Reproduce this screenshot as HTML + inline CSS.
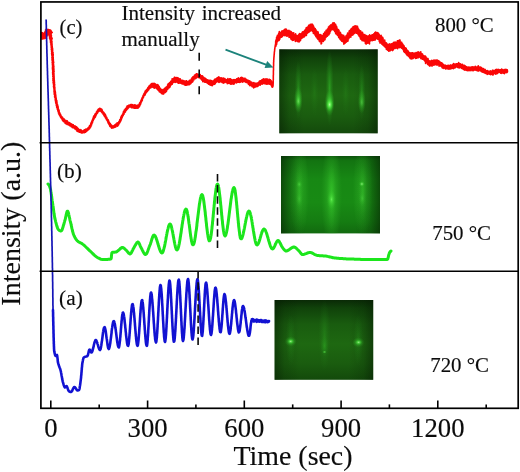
<!DOCTYPE html>
<html><head><meta charset="utf-8"><title>RHEED intensity oscillations</title>
<style>html,body{margin:0;padding:0;background:#fff}body{width:520px;height:472px;overflow:hidden}</style></head>
<body>
<svg width="520" height="472" viewBox="0 0 520 472" style="display:block;font-family:'Liberation Serif',serif">
<rect width="520" height="472" fill="#fff"/>
<defs>
<radialGradient id="gglow"><stop offset="0" stop-color="#35c52a" stop-opacity="0.9"/><stop offset="0.5" stop-color="#2fb526" stop-opacity="0.4"/><stop offset="1" stop-color="#2aa522" stop-opacity="0"/></radialGradient>
<radialGradient id="gspot"><stop offset="0" stop-color="#b4ffa0" stop-opacity="1"/><stop offset="0.35" stop-color="#5cf04c" stop-opacity="0.85"/><stop offset="0.7" stop-color="#3cd232" stop-opacity="0.35"/><stop offset="1" stop-color="#30c028" stop-opacity="0"/></radialGradient>
<radialGradient id="gmid"><stop offset="0" stop-color="#58ea48" stop-opacity="1"/><stop offset="0.5" stop-color="#40d034" stop-opacity="0.5"/><stop offset="1" stop-color="#30b828" stop-opacity="0"/></radialGradient>
</defs>
<defs><linearGradient id="bgc" x1="0" y1="0" x2="0" y2="1"><stop offset="0" stop-color="#0a2c07"/><stop offset="0.1" stop-color="#10420a"/><stop offset="0.3" stop-color="#195c0f"/><stop offset="0.55" stop-color="#1e6811"/><stop offset="0.8" stop-color="#1a5c0f"/><stop offset="1" stop-color="#144a0c"/></linearGradient>
<linearGradient id="edc" x1="0" y1="0" x2="1" y2="0"><stop offset="0" stop-color="#041802" stop-opacity="0.5"/><stop offset="0.1" stop-color="#041802" stop-opacity="0.17"/><stop offset="0.25" stop-color="#041802" stop-opacity="0"/><stop offset="0.75" stop-color="#041802" stop-opacity="0"/><stop offset="0.9" stop-color="#041802" stop-opacity="0.17"/><stop offset="1" stop-color="#041802" stop-opacity="0.5"/></linearGradient>
<clipPath id="cpc"><rect x="279.3" y="49.3" width="98.4" height="84"/></clipPath></defs>
<rect x="279.3" y="49.3" width="98.4" height="84" fill="url(#bgc)"/>
<g clip-path="url(#cpc)">
<ellipse cx="298.3" cy="90" rx="3.6" ry="30" fill="url(#gglow)" opacity="0.55"/>
<ellipse cx="329.6" cy="88" rx="4" ry="38" fill="url(#gglow)" opacity="0.65"/>
<ellipse cx="361.8" cy="92" rx="3.6" ry="28" fill="url(#gglow)" opacity="0.5"/>
<ellipse cx="314.5" cy="92" rx="4" ry="25" fill="url(#gglow)" opacity="0.15"/>
<ellipse cx="345.7" cy="92" rx="4" ry="25" fill="url(#gglow)" opacity="0.15"/>
<ellipse cx="298.3" cy="100" rx="4.4" ry="13" fill="url(#gmid)" opacity="0.9"/>
<ellipse cx="329.6" cy="103" rx="5" ry="13" fill="url(#gmid)" opacity="1"/>
<ellipse cx="361.8" cy="101.5" rx="4" ry="12" fill="url(#gmid)" opacity="0.7"/>
<ellipse cx="298.3" cy="101.5" rx="3" ry="6" fill="url(#gspot)" opacity="0.4"/>
<ellipse cx="329.6" cy="104.6" rx="4" ry="7" fill="url(#gspot)" opacity="1"/>
<ellipse cx="361.8" cy="103" rx="2.6" ry="5" fill="url(#gspot)" opacity="0.15"/>
</g>
<rect x="279.3" y="49.3" width="98.4" height="84" fill="url(#edc)"/>
<defs><linearGradient id="bgb" x1="0" y1="0" x2="0" y2="1"><stop offset="0" stop-color="#0d520c"/><stop offset="0.06" stop-color="#137411"/><stop offset="0.3" stop-color="#178814"/><stop offset="0.6" stop-color="#188a14"/><stop offset="0.85" stop-color="#157c12"/><stop offset="1" stop-color="#126a0f"/></linearGradient>
<linearGradient id="edb" x1="0" y1="0" x2="1" y2="0"><stop offset="0" stop-color="#041802" stop-opacity="0.55"/><stop offset="0.1" stop-color="#041802" stop-opacity="0.19"/><stop offset="0.25" stop-color="#041802" stop-opacity="0"/><stop offset="0.75" stop-color="#041802" stop-opacity="0"/><stop offset="0.9" stop-color="#041802" stop-opacity="0.19"/><stop offset="1" stop-color="#041802" stop-opacity="0.55"/></linearGradient>
<clipPath id="cpb"><rect x="281" y="156" width="99" height="77.4"/></clipPath></defs>
<rect x="281" y="156" width="99" height="77.4" fill="url(#bgb)"/>
<g clip-path="url(#cpb)">
<ellipse cx="299.2" cy="190" rx="10" ry="48" fill="url(#gglow)" opacity="0.95"/>
<ellipse cx="331.5" cy="194" rx="10.5" ry="54" fill="url(#gglow)" opacity="1"/>
<ellipse cx="362.8" cy="190" rx="10" ry="48" fill="url(#gglow)" opacity="0.95"/>
<ellipse cx="299.2" cy="192" rx="4" ry="30" fill="url(#gglow)" opacity="0.5"/>
<ellipse cx="331.5" cy="196" rx="4.5" ry="34" fill="url(#gglow)" opacity="0.6"/>
<ellipse cx="362.8" cy="192" rx="4" ry="30" fill="url(#gglow)" opacity="0.5"/>
<ellipse cx="299.2" cy="184.3" rx="3" ry="4" fill="url(#gmid)" opacity="0.8"/>
<ellipse cx="299.2" cy="199" rx="3.5" ry="8" fill="url(#gmid)" opacity="0.45"/>
<ellipse cx="331.5" cy="199.4" rx="4.5" ry="10" fill="url(#gmid)" opacity="0.95"/>
<ellipse cx="331.5" cy="199.4" rx="2.5" ry="5" fill="url(#gspot)" opacity="0.15"/>
<ellipse cx="362.3" cy="198.5" rx="3.5" ry="8" fill="url(#gmid)" opacity="0.5"/>
<ellipse cx="361.9" cy="184" rx="3" ry="3" fill="url(#gspot)" opacity="0.85"/>
</g>
<rect x="281" y="156" width="99" height="77.4" fill="url(#edb)"/>
<defs><linearGradient id="bga" x1="0" y1="0" x2="0" y2="1"><stop offset="0" stop-color="#0a2a06"/><stop offset="0.1" stop-color="#10420a"/><stop offset="0.3" stop-color="#195c0f"/><stop offset="0.55" stop-color="#1e6811"/><stop offset="0.8" stop-color="#1a5c0f"/><stop offset="1" stop-color="#134a0b"/></linearGradient>
<linearGradient id="eda" x1="0" y1="0" x2="1" y2="0"><stop offset="0" stop-color="#041802" stop-opacity="0.5"/><stop offset="0.1" stop-color="#041802" stop-opacity="0.17"/><stop offset="0.25" stop-color="#041802" stop-opacity="0"/><stop offset="0.75" stop-color="#041802" stop-opacity="0"/><stop offset="0.9" stop-color="#041802" stop-opacity="0.17"/><stop offset="1" stop-color="#041802" stop-opacity="0.5"/></linearGradient>
<clipPath id="cpa"><rect x="274.6" y="300" width="98.6" height="79.8"/></clipPath></defs>
<rect x="274.6" y="300" width="98.6" height="79.8" fill="url(#bga)"/>
<g clip-path="url(#cpa)">
<ellipse cx="324.5" cy="335" rx="6" ry="36" fill="url(#gglow)" opacity="0.28"/>
<ellipse cx="324.5" cy="346" rx="4" ry="11" fill="url(#gglow)" opacity="0.4"/>
<ellipse cx="290.6" cy="340" rx="5" ry="26" fill="url(#gglow)" opacity="0.3"/>
<ellipse cx="358.4" cy="340" rx="5" ry="26" fill="url(#gglow)" opacity="0.3"/>
<ellipse cx="290.6" cy="341.4" rx="6" ry="5" fill="url(#gmid)" opacity="0.8"/>
<ellipse cx="358.4" cy="342.4" rx="6" ry="5" fill="url(#gmid)" opacity="0.8"/>
<ellipse cx="290.6" cy="341.4" rx="3.6" ry="2.8" fill="url(#gspot)" opacity="1"/>
<ellipse cx="358.6" cy="342.3" rx="3.6" ry="2.8" fill="url(#gspot)" opacity="1"/>
<ellipse cx="324.5" cy="352" rx="2.2" ry="1.6" fill="url(#gspot)" opacity="0.5"/>
</g>
<rect x="274.6" y="300" width="98.6" height="79.8" fill="url(#eda)"/>
<defs><clipPath id="fr"><rect x="40.9" y="1.95" width="477.3" height="406.35"/></clipPath></defs><g clip-path="url(#fr)">
<path d="M40.4 32.6 L41.9 32.5 L39.5 33.3 L42.7 32.8 L40.2 33.6 L42.6 33.2 L39.8 34.2 L42.7 33.6 L39.3 34.8 L42.8 34.0 L39.9 35.2 L43.4 34.2 L40.1 35.6 L43.5 34.6 L39.8 36.3 L44.0 34.8 L40.9 36.4 L43.7 35.3 L40.8 37.0 L43.3 35.9 L41.7 37.1 L44.3 35.6 L41.8 37.8 L43.8 36.2 L41.7 39.0 L44.1 35.9 L42.8 39.0 L43.9 35.6 L44.1 38.7 L42.6 36.0 L45.6 38.2 L43.1 36.5 L46.5 37.9 L42.1 35.7 L45.7 37.0 L43.0 35.7 L45.8 36.5 L43.4 35.4 L46.2 36.2 L43.8 35.1 L47.0 36.0 L43.0 34.3 L47.2 35.7 L43.1 33.8 L46.8 35.1 L43.8 33.5 L47.1 35.0 L44.6 33.3 L47.5 34.7 L44.5 32.8 L47.5 34.1 L44.9 32.5 L47.8 33.8 L44.9 32.0 L48.2 33.5 L45.3 31.7 L48.1 33.0 L45.3 31.1 L48.4 32.8 L45.8 30.9 L48.2 32.3 L45.6 29.8 L48.8 32.7 L46.3 29.1 L48.4 33.6 L48.0 29.3 L47.5 33.2 L48.8 29.7 L47.4 32.8 L49.6 29.9 L47.9 32.4 L50.4 30.0 L47.7 33.0 L50.9 30.4 L48.4 32.7 L51.2 31.2 L48.4 32.8 L51.1 32.1 L48.3 33.1 L52.2 32.4 L48.5 33.5 L51.6 33.0 L48.2 34.0 L51.4 33.5 L48.8 34.3 L51.1 34.0 L49.4 34.6 L51.2 34.5 L49.1 35.1 L51.0 35.0 L49.0 35.5 L51.3 35.4 L49.3 35.9 L51.5 35.8 L49.4 36.4 L51.4 36.3 L49.6 36.8 L51.3 36.7 L49.6 37.2 L51.2 37.2 L49.8 37.6 L51.7 37.6 L49.5 38.1 L51.7 38.0 L50.0 38.5 L52.1 38.4 L50.0 38.9 L52.1 38.8 L50.1 39.4 L51.7 39.4 L50.2 39.8 L51.7 39.8 L50.6 40.2 L51.5 40.3 L50.5 40.6 L51.5 40.7 L50.6 41.1 L51.9 41.1 L50.6 41.5 L52.0 41.5 L50.4 42.0 L52.0 42.0 L50.7 42.4 L51.9 42.4 L50.8 42.8 L51.7 42.9 L50.9 43.2 L51.9 43.3 L50.9 43.7 L52.0 43.8 L51.0 44.1 L52.2 44.2 L50.9 44.5 L51.9 44.7 L51.1 45.0 L52.0 45.1 L51.1 45.4 L51.9 45.5 L51.3 45.8 L52.2 46.0 L51.3 46.3 L52.2 46.4 L51.3 46.7 L52.2 46.8 L51.1 47.2 L52.3 47.3 L51.4 47.6 L52.4 47.7 L51.4 48.0 L52.3 48.2 L51.4 48.5 L52.6 48.6 L51.5 48.9 L52.5 49.0 L51.4 49.3 L52.7 49.5 L51.3 49.8 L52.4 49.9 L51.6 50.2 L52.7 50.3 L51.8 50.6 L52.6 50.8 L51.8 51.1 L52.6 51.2 L51.6 51.5 L52.7 51.7 L51.9 52.0 L52.5 52.1 L51.7 52.4 L53.1 52.5 L51.8 52.8 L53.0 53.0 L51.7 53.3 L52.9 53.4 L51.6 53.7 L52.9 53.9 L51.8 54.2 L53.3 54.3 L51.8 54.6 L53.2 54.7 L51.8 55.0 L52.9 55.2 L52.0 55.5 L53.2 55.6 L52.0 55.9 L53.2 56.0 L52.2 56.3 L53.0 56.5 L52.1 56.8 L53.1 56.9 L52.1 57.2 L53.2 57.4 L51.9 57.7 L53.3 57.8 L52.2 58.1 L53.2 58.3 L52.2 58.5 L53.1 58.7 L52.2 59.0 L53.3 59.1 L52.0 59.4 L53.3 59.6 L52.4 59.8 L53.4 60.0 L52.1 60.3 L53.4 60.5 L52.3 60.7 L53.3 60.9 L52.5 61.2 L53.4 61.3 L52.6 61.6 L53.5 61.8 L52.2 62.1 L53.8 62.2 L52.5 62.5 L53.4 62.7 L52.2 62.9 L53.4 63.1 L52.6 63.4 L53.5 63.5 L52.4 63.8 L53.4 64.0 L52.4 64.3 L53.6 64.4 L52.4 64.7 L53.3 64.9 L52.6 65.1 L53.5 65.3 L52.6 65.6 L53.7 65.7 L52.5 66.0 L54.0 66.2 L52.6 66.4 L53.7 66.6 L52.7 66.9 L53.7 67.1 L52.5 67.3 L53.8 67.5 L52.7 67.8 L53.8 67.9 L52.3 68.2 L53.7 68.4 L52.6 68.6 L53.9 68.8 L52.5 69.1 L53.8 69.3 L52.5 69.5 L54.0 69.7 L52.7 70.0 L53.9 70.1 L52.7 70.4 L53.9 70.6 L52.7 70.8 L53.8 71.0 L52.7 71.3 L54.1 71.4 L52.9 71.7 L53.7 71.9 L53.0 72.2 L53.9 72.3 L52.6 72.6 L53.8 72.8 L52.9 73.0 L53.8 73.2 L52.7 73.5 L54.0 73.7 L52.7 73.9 L53.9 74.1 L52.7 74.4 L53.9 74.5 L52.8 74.8 L54.1 75.0 L52.9 75.2 L53.9 75.4 L53.0 75.7 L54.0 75.9 L53.1 76.1 L54.0 76.3 L52.8 76.6 L54.2 76.7 L53.2 77.0 L54.1 77.2 L53.2 77.4 L53.9 77.6 L53.3 77.9 L54.2 78.0 L52.9 78.3 L54.2 78.5 L53.2 78.8 L54.1 78.9 L53.1 79.2 L54.2 79.4 L53.3 79.6 L54.1 79.8 L52.9 80.1 L54.3 80.2 L53.0 80.5 L54.4 80.7 L53.1 81.0 L54.3 81.1 L53.3 81.4 L54.1 81.6 L53.4 81.8 L54.5 82.0 L53.5 82.3 L54.5 82.4 L53.0 82.7 L54.4 82.9 L53.4 83.2 L54.5 83.3 L53.4 83.6 L54.5 83.7 L53.4 84.0 L54.6 84.2 L53.6 84.5 L54.7 84.6 L53.7 84.9 L54.7 85.0 L53.6 85.4 L54.6 85.5 L53.8 85.8 L54.5 85.9 L53.6 86.2 L54.6 86.4 L53.5 86.7 L54.6 86.8 L53.7 87.1 L54.8 87.2 L53.9 87.5 L54.9 87.7 L53.8 88.0 L54.7 88.1 L53.9 88.4 L54.9 88.5 L54.0 88.9 L54.8 89.0 L54.1 89.3 L54.7 89.5 L54.0 89.7 L54.9 89.9 L54.0 90.2 L55.1 90.3 L54.1 90.6 L55.0 90.7 L54.2 91.1 L55.1 91.2 L54.0 91.5 L55.3 91.6 L54.3 91.9 L55.2 92.1 L54.1 92.4 L55.5 92.5 L54.4 92.8 L55.2 92.9 L54.2 93.3 L55.5 93.3 L54.3 93.7 L55.5 93.8 L54.3 94.2 L55.4 94.2 L54.3 94.6 L55.7 94.6 L54.6 95.0 L55.7 95.1 L54.7 95.4 L55.8 95.5 L54.8 95.9 L55.9 95.9 L54.6 96.4 L55.9 96.4 L54.7 96.8 L55.8 96.8 L54.7 97.2 L55.8 97.3 L55.0 97.6 L56.2 97.7 L55.1 98.1 L56.0 98.1 L55.3 98.5 L56.2 98.6 L55.4 98.9 L56.0 99.0 L55.2 99.4 L56.3 99.4 L55.5 99.8 L56.2 99.9 L55.3 100.3 L56.6 100.3 L55.4 100.7 L56.7 100.7 L55.5 101.1 L57.0 101.1 L55.6 101.6 L56.6 101.6 L55.9 102.0 L56.9 102.0 L55.7 102.5 L57.0 102.4 L55.7 102.9 L57.1 102.8 L56.0 103.3 L57.1 103.3 L56.1 103.7 L57.1 103.7 L56.2 104.2 L57.1 104.2 L56.4 104.6 L57.5 104.5 L56.4 105.0 L57.4 105.0 L56.3 105.5 L57.7 105.4 L56.7 105.8 L57.6 105.9 L56.6 106.3 L58.0 106.2 L56.8 106.7 L58.0 106.7 L56.7 107.2 L58.2 107.1 L57.1 107.6 L58.2 107.5 L57.3 108.0 L58.1 108.0 L57.4 108.4 L58.2 108.4 L57.2 108.9 L58.4 108.8 L57.4 109.3 L58.6 109.2 L57.7 109.7 L58.6 109.7 L57.8 110.1 L59.0 110.0 L57.9 110.6 L58.9 110.5 L58.1 111.0 L59.2 110.9 L58.0 111.5 L59.1 111.4 L58.3 111.8 L59.2 111.8 L58.5 112.2 L59.4 112.2 L58.5 112.7 L59.7 112.5 L58.5 113.2 L59.6 113.0 L58.9 113.5 L59.7 113.4 L59.0 114.0 L60.2 113.7 L59.0 114.4 L60.3 114.1 L59.4 114.8 L60.6 114.5 L59.5 115.2 L60.1 114.1 L60.2 116.8 L60.3 114.7 L60.4 116.6 L60.5 114.3 L60.6 117.0 L60.7 115.4 L60.8 117.6 L60.9 115.4 L61.1 117.9 L61.2 116.5 L61.3 118.0 L61.4 116.3 L61.5 118.5 L61.7 116.9 L61.8 118.7 L61.9 117.2 L62.1 119.8 L62.2 117.8 L62.3 119.7 L62.5 117.3 L62.6 120.4 L62.8 118.1 L62.9 120.9 L63.1 118.4 L63.2 121.0 L63.4 118.8 L63.5 121.5 L63.7 118.7 L63.8 121.6 L64.0 119.5 L64.2 121.9 L64.3 119.1 L64.5 122.0 L64.7 119.7 L64.8 122.3 L65.0 120.1 L65.2 123.4 L65.3 120.5 L65.5 123.4 L65.7 120.8 L65.9 123.6 L66.1 120.6 L66.2 123.7 L66.4 121.2 L66.6 123.6 L66.8 121.4 L67.0 124.5 L67.2 120.8 L67.3 124.1 L67.5 121.9 L67.7 124.0 L67.9 122.4 L68.1 124.6 L68.3 122.3 L68.5 124.9 L68.7 123.0 L68.9 124.7 L69.1 122.5 L69.3 125.3 L69.5 123.1 L69.6 125.7 L69.8 122.7 L70.0 125.4 L70.2 123.4 L70.4 125.6 L70.6 123.7 L70.8 126.3 L71.0 124.0 L71.2 126.7 L71.4 124.0 L71.6 126.3 L71.8 124.0 L72.0 126.7 L72.2 124.6 L72.4 127.7 L72.5 124.8 L72.7 126.9 L72.9 124.8 L73.1 126.9 L73.3 124.9 L73.5 127.2 L73.6 125.8 L73.8 128.0 L74.0 125.8 L74.2 128.2 L74.3 125.8 L74.5 128.5 L74.7 126.6 L74.9 128.9 L75.0 126.6 L75.2 128.6 L75.4 126.1 L75.6 129.1 L75.7 126.7 L75.9 129.5 L76.1 126.8 L76.2 130.0 L76.4 126.8 L76.6 130.3 L76.8 127.0 L76.9 131.1 L77.1 127.5 L77.3 131.1 L77.5 127.9 L77.6 131.5 L77.8 128.5 L78.0 131.5 L78.2 128.5 L78.4 131.4 L78.5 129.3 L78.7 131.2 L78.9 129.2 L79.1 132.1 L79.3 129.5 L79.5 132.2 L79.7 129.7 L79.9 131.9 L80.1 129.6 L80.3 132.5 L80.5 129.9 L80.7 132.3 L80.9 130.2 L81.1 132.5 L81.3 130.1 L81.5 133.0 L81.7 130.7 L81.9 132.9 L82.2 131.0 L82.4 132.9 L82.6 131.1 L82.8 132.8 L83.0 130.7 L83.3 132.7 L83.5 130.6 L83.7 132.5 L83.9 130.8 L84.1 132.4 L84.3 129.8 L84.5 132.6 L84.7 130.3 L84.9 132.0 L85.1 130.2 L85.3 132.1 L85.5 129.4 L85.7 132.1 L85.9 129.4 L86.0 131.8 L86.2 129.3 L86.4 131.3 L86.6 129.3 L86.8 130.8 L86.9 129.0 L87.1 130.8 L87.3 128.8 L87.4 130.6 L87.6 128.4 L87.8 130.3 L88.0 128.0 L88.1 129.8 L88.3 127.5 L88.5 129.7 L88.6 127.3 L88.8 129.1 L88.9 127.0 L89.1 129.0 L89.2 126.9 L89.4 129.0 L89.5 125.9 L89.6 128.3 L89.7 125.6 L89.8 128.4 L90.0 126.0 L90.1 127.4 L90.2 125.2 L90.3 127.5 L90.4 124.7 L90.5 127.2 L90.6 124.5 L90.7 126.6 L90.8 123.9 L90.9 126.7 L90.9 123.0 L91.0 125.7 L91.1 122.7 L91.2 124.9 L91.3 123.1 L91.4 124.7 L91.5 122.3 L91.6 125.0 L91.6 121.7 L91.7 124.0 L91.8 121.2 L91.9 123.3 L92.0 120.9 L92.1 123.0 L92.2 121.1 L92.2 122.5 L92.3 120.1 L92.4 122.9 L92.5 120.1 L92.6 122.4 L92.7 119.0 L92.7 121.6 L92.8 119.4 L92.9 120.9 L93.0 118.5 L93.1 120.7 L93.2 118.5 L93.3 120.4 L93.3 117.2 L93.4 119.7 L93.5 116.8 L93.6 119.8 L93.7 116.6 L93.8 119.4 L93.9 115.9 L94.0 118.7 L94.1 116.3 L94.2 118.4 L94.3 116.0 L94.4 117.7 L94.5 115.8 L94.6 117.2 L94.7 115.1 L94.8 117.8 L94.9 114.2 L95.1 117.0 L95.2 113.7 L95.3 117.1 L95.4 114.2 L95.5 115.7 L95.6 113.5 L95.7 116.1 L95.9 113.3 L96.0 115.6 L96.1 113.0 L96.2 114.8 L96.3 113.1 L96.4 114.4 L96.5 111.9 L96.6 113.9 L96.8 112.0 L96.9 113.5 L97.0 111.4 L97.1 113.5 L97.2 111.1 L97.3 113.4 L97.5 110.4 L97.6 112.9 L97.7 110.0 L97.8 112.6 L98.0 110.2 L98.1 111.8 L98.2 109.3 L98.4 111.5 L98.5 109.3 L98.7 111.5 L98.9 108.9 L99.0 110.8 L99.2 108.9 L99.4 110.4 L99.6 108.4 L99.8 111.0 L100.0 108.6 L100.2 110.8 L100.5 108.5 L100.7 111.2 L100.8 108.8 L101.0 111.5 L101.2 109.2 L101.3 111.3 L101.5 109.2 L101.6 112.3 L101.8 109.2 L101.9 112.7 L102.0 109.6 L102.2 112.2 L102.3 110.5 L102.4 112.9 L102.5 111.0 L102.6 113.2 L102.8 111.5 L102.9 113.6 L103.0 111.7 L103.1 114.3 L103.2 112.2 L103.3 114.2 L103.4 112.0 L103.6 114.7 L103.7 112.4 L103.8 115.1 L103.9 113.3 L104.0 115.5 L104.1 112.8 L104.2 116.0 L104.4 114.0 L104.5 116.2 L104.6 114.0 L104.7 116.7 L104.9 114.8 L105.0 116.7 L105.1 114.1 L105.2 117.2 L105.4 114.8 L105.5 117.9 L105.6 115.0 L105.7 117.7 L105.8 115.5 L106.0 118.8 L106.1 116.7 L106.2 118.8 L106.3 117.1 L106.4 119.5 L106.5 117.1 L106.6 119.9 L106.7 117.2 L106.8 119.5 L106.9 117.7 L107.0 119.9 L107.1 118.7 L107.2 120.5 L107.3 119.0 L107.4 121.0 L107.5 119.5 L107.6 121.4 L107.7 119.3 L107.8 122.3 L107.9 119.7 L108.0 122.3 L108.1 119.9 L108.2 123.2 L108.3 119.7 L108.4 123.5 L108.5 120.7 L108.6 123.5 L108.7 121.0 L108.8 124.1 L108.9 122.0 L109.0 124.1 L109.1 122.3 L109.3 125.0 L109.4 122.4 L109.5 124.9 L109.6 122.7 L109.7 125.8 L109.8 123.2 L109.9 126.4 L110.1 123.8 L110.2 126.0 L110.3 123.5 L110.4 126.6 L110.6 124.2 L110.7 126.9 L110.9 124.9 L111.0 127.3 L111.2 124.8 L111.3 127.6 L111.5 125.1 L111.7 128.3 L111.9 125.6 L112.1 127.8 L112.3 125.7 L112.5 128.0 L112.7 126.1 L113.0 127.9 L113.2 126.1 L113.4 127.6 L113.6 125.7 L113.8 127.7 L114.0 125.5 L114.2 127.4 L114.4 125.8 L114.6 127.1 L114.8 125.0 L115.0 127.1 L115.2 124.5 L115.4 127.0 L115.6 124.5 L115.8 126.9 L116.0 124.0 L116.2 126.2 L116.4 124.4 L116.6 126.0 L116.7 124.0 L116.9 125.8 L117.1 122.8 L117.3 125.7 L117.5 123.3 L117.6 126.1 L117.8 123.2 L118.0 125.0 L118.1 122.8 L118.3 125.1 L118.4 122.5 L118.5 124.9 L118.7 122.1 L118.8 123.9 L118.9 121.5 L119.0 123.9 L119.1 121.8 L119.2 122.9 L119.3 121.0 L119.5 123.0 L119.6 120.7 L119.7 122.7 L119.8 119.5 L119.9 122.8 L120.0 119.9 L120.1 121.9 L120.2 119.6 L120.3 121.3 L120.3 119.3 L120.4 121.3 L120.5 119.1 L120.6 121.2 L120.7 117.7 L120.8 120.4 L120.9 117.1 L121.0 120.7 L121.1 116.8 L121.2 119.4 L121.3 116.8 L121.3 119.7 L121.4 116.3 L121.5 118.5 L121.6 115.5 L121.7 118.6 L121.8 115.8 L121.9 117.9 L122.0 115.7 L122.1 117.3 L122.1 115.4 L122.2 117.5 L122.3 114.9 L122.4 116.7 L122.5 114.3 L122.6 116.3 L122.7 114.0 L122.8 116.1 L122.9 113.9 L123.0 115.7 L123.1 113.2 L123.2 115.5 L123.2 112.8 L123.3 114.4 L123.4 111.8 L123.5 114.1 L123.6 111.6 L123.7 114.6 L123.8 111.4 L124.0 113.6 L124.1 110.8 L124.2 113.9 L124.3 110.0 L124.4 113.0 L124.5 110.2 L124.6 112.8 L124.8 110.3 L124.9 112.4 L125.0 109.3 L125.2 111.6 L125.3 109.1 L125.4 111.9 L125.6 108.5 L125.7 110.9 L125.8 108.8 L126.0 110.6 L126.1 108.5 L126.2 110.2 L126.3 107.7 L126.5 110.1 L126.6 107.0 L126.7 109.8 L126.9 106.8 L127.0 109.1 L127.1 106.0 L127.3 109.2 L127.4 106.0 L127.6 109.0 L127.7 106.5 L127.9 108.3 L128.0 105.7 L128.2 108.3 L128.3 105.9 L128.5 107.9 L128.7 105.2 L128.8 107.1 L129.0 105.4 L129.2 107.2 L129.4 105.2 L129.6 106.8 L129.8 105.1 L130.1 106.8 L130.3 105.0 L130.5 107.0 L130.7 104.6 L130.9 107.2 L131.2 104.8 L131.4 107.6 L131.6 104.5 L131.8 107.2 L132.0 104.5 L132.2 107.8 L132.5 105.0 L132.7 107.6 L132.9 104.8 L133.1 107.3 L133.3 105.2 L133.5 107.6 L133.8 105.2 L134.0 108.2 L134.2 105.1 L134.4 108.0 L134.6 104.8 L134.8 108.2 L135.1 105.1 L135.3 108.0 L135.5 105.0 L135.7 108.2 L135.9 105.4 L136.1 108.3 L136.4 105.9 L136.6 107.5 L136.8 105.8 L137.0 107.7 L137.2 105.2 L137.5 108.2 L137.7 105.2 L137.9 108.0 L138.1 105.8 L138.3 107.9 L138.4 105.1 L138.6 107.0 L138.7 104.7 L138.9 107.1 L139.0 104.8 L139.1 106.6 L139.3 103.8 L139.4 106.2 L139.5 103.3 L139.6 106.4 L139.7 102.9 L139.8 105.6 L139.9 102.5 L140.0 105.3 L140.1 102.5 L140.2 104.8 L140.3 102.4 L140.4 104.7 L140.5 101.9 L140.6 104.4 L140.7 101.4 L140.8 103.3 L140.9 101.1 L141.0 103.1 L141.0 100.3 L141.1 102.4 L141.2 100.1 L141.3 101.8 L141.4 100.3 L141.5 101.8 L141.6 99.1 L141.6 101.7 L141.7 99.2 L141.8 101.1 L141.9 98.5 L142.0 100.3 L142.1 98.0 L142.1 100.3 L142.2 97.6 L142.3 100.4 L142.4 97.3 L142.5 99.2 L142.6 97.3 L142.7 98.8 L142.7 97.0 L142.8 98.5 L142.9 96.2 L143.0 98.1 L143.1 95.4 L143.2 98.0 L143.3 95.2 L143.4 97.7 L143.4 95.2 L143.5 97.2 L143.6 94.9 L143.7 96.2 L143.8 94.6 L143.9 96.1 L144.0 93.6 L144.1 95.4 L144.2 93.5 L144.3 95.5 L144.4 93.0 L144.6 95.1 L144.7 92.8 L144.8 94.5 L144.9 92.0 L145.0 95.3 L145.2 91.0 L145.3 94.5 L145.4 91.7 L145.6 93.4 L145.7 91.6 L145.8 93.2 L145.9 90.6 L146.1 92.8 L146.2 90.2 L146.3 92.6 L146.4 89.8 L146.6 92.2 L146.7 89.6 L146.8 91.5 L146.9 89.6 L147.0 91.6 L147.2 89.6 L147.3 91.4 L147.4 88.5 L147.5 91.5 L147.7 88.3 L147.8 90.7 L147.9 87.5 L148.1 90.3 L148.2 87.5 L148.3 90.2 L148.4 87.5 L148.6 89.7 L148.7 86.7 L148.9 89.7 L149.0 86.0 L149.1 88.6 L149.3 86.3 L149.4 88.5 L149.6 85.7 L149.7 88.0 L149.9 85.3 L150.0 88.3 L150.2 85.1 L150.3 87.6 L150.5 84.9 L150.7 87.6 L150.8 84.5 L151.0 87.8 L151.2 83.9 L151.4 87.3 L151.6 83.6 L151.8 86.6 L152.0 84.0 L152.2 86.8 L152.5 83.5 L152.7 87.3 L152.9 83.2 L153.1 87.1 L153.3 83.5 L153.6 87.7 L153.8 84.0 L154.0 87.2 L154.2 83.3 L154.4 88.1 L154.6 83.7 L154.8 87.7 L155.0 83.9 L155.2 88.0 L155.4 84.3 L155.6 87.8 L155.8 84.3 L156.0 87.6 L156.2 85.5 L156.4 87.3 L156.6 85.0 L156.8 88.7 L157.0 84.8 L157.2 89.1 L157.4 85.4 L157.6 88.5 L157.7 84.6 L157.9 89.8 L158.1 85.6 L158.2 90.4 L158.4 85.4 L158.5 90.3 L158.6 86.2 L158.8 90.3 L158.9 86.2 L159.1 90.5 L159.2 86.6 L159.3 91.7 L159.5 87.8 L159.6 91.0 L159.8 87.8 L159.9 92.0 L160.0 88.1 L160.2 92.4 L160.3 88.7 L160.5 92.1 L160.6 89.4 L160.8 92.0 L160.9 89.0 L161.1 92.0 L161.2 89.3 L161.4 93.1 L161.6 90.2 L161.8 93.6 L162.0 90.2 L162.2 93.8 L162.4 89.9 L162.6 93.1 L162.9 89.6 L163.1 94.2 L163.3 90.2 L163.5 93.0 L163.7 89.4 L163.9 93.6 L164.1 89.6 L164.2 93.0 L164.4 89.4 L164.6 92.3 L164.7 88.3 L164.9 91.8 L165.0 88.2 L165.2 91.4 L165.4 87.9 L165.5 92.5 L165.6 88.4 L165.8 90.7 L165.9 87.4 L166.1 91.5 L166.2 87.0 L166.4 91.4 L166.5 87.0 L166.6 90.9 L166.8 87.0 L166.9 89.9 L167.1 86.6 L167.2 89.7 L167.3 86.5 L167.5 88.7 L167.6 84.9 L167.8 89.3 L167.9 85.0 L168.0 88.5 L168.2 83.9 L168.3 87.7 L168.5 84.9 L168.6 87.2 L168.8 84.2 L168.9 87.9 L169.1 84.2 L169.3 87.8 L169.4 82.8 L169.5 86.7 L169.7 83.1 L169.8 86.6 L170.0 83.5 L170.1 86.9 L170.2 83.0 L170.4 85.5 L170.5 81.8 L170.7 85.5 L170.8 81.4 L170.9 85.3 L171.0 81.9 L171.2 84.8 L171.3 80.7 L171.4 83.9 L171.6 81.3 L171.7 84.4 L171.8 80.9 L172.0 84.0 L172.1 78.9 L172.3 84.2 L172.4 80.1 L172.5 82.5 L172.7 79.4 L172.8 83.0 L173.0 78.8 L173.1 82.0 L173.3 79.0 L173.5 82.0 L173.6 78.8 L173.8 82.2 L174.0 78.1 L174.2 81.8 L174.4 77.3 L174.6 81.6 L174.8 77.3 L175.1 82.4 L175.3 77.7 L175.5 81.2 L175.7 78.5 L175.9 82.1 L176.1 77.6 L176.4 82.0 L176.6 78.9 L176.8 81.6 L177.0 77.5 L177.2 82.2 L177.4 78.7 L177.6 82.8 L177.8 77.9 L178.0 81.9 L178.2 78.3 L178.4 83.3 L178.6 78.3 L178.8 83.1 L179.0 78.6 L179.2 82.2 L179.4 79.6 L179.6 82.7 L179.8 79.0 L180.0 83.2 L180.2 78.7 L180.4 83.0 L180.6 80.4 L180.9 82.6 L181.1 80.5 L181.3 83.5 L181.5 80.4 L181.7 83.2 L181.9 80.2 L182.1 83.9 L182.3 80.6 L182.5 83.3 L182.8 80.2 L183.0 83.9 L183.2 81.4 L183.4 83.9 L183.6 81.2 L183.8 83.9 L184.0 80.8 L184.2 84.6 L184.4 81.2 L184.7 84.7 L184.9 81.3 L185.1 85.1 L185.3 81.2 L185.5 85.2 L185.7 81.0 L185.9 85.1 L186.2 80.9 L186.4 85.2 L186.6 80.9 L186.8 84.3 L187.0 81.2 L187.3 84.9 L187.5 82.2 L187.7 84.0 L187.9 82.1 L188.1 84.4 L188.3 81.6 L188.5 84.6 L188.7 81.4 L188.9 84.5 L189.1 80.8 L189.3 84.6 L189.5 80.2 L189.7 84.4 L189.8 80.9 L190.0 83.5 L190.2 80.5 L190.3 83.4 L190.5 80.4 L190.7 83.7 L190.8 79.9 L191.0 82.6 L191.1 79.8 L191.3 82.9 L191.4 78.9 L191.6 82.5 L191.7 79.1 L191.9 81.6 L192.0 77.9 L192.2 82.3 L192.3 78.2 L192.5 81.5 L192.6 77.9 L192.8 81.7 L192.9 76.8 L193.1 80.9 L193.2 77.1 L193.3 79.8 L193.5 77.0 L193.6 79.8 L193.8 76.6 L193.9 80.0 L194.1 76.4 L194.3 78.9 L194.4 75.3 L194.6 78.4 L194.7 75.9 L194.9 78.0 L195.1 74.8 L195.2 78.1 L195.4 75.1 L195.6 78.7 L195.8 74.2 L196.0 77.4 L196.2 75.0 L196.4 78.0 L196.6 73.8 L196.8 77.6 L197.0 73.7 L197.2 76.9 L197.4 74.0 L197.6 76.8 L197.9 74.8 L198.1 76.7 L198.3 74.4 L198.5 77.5 L198.7 74.6 L198.9 77.8 L199.1 75.2 L199.3 77.3 L199.5 75.4 L199.7 77.7 L199.8 74.8 L200.0 77.9 L200.2 74.5 L200.4 78.6 L200.6 75.6 L200.7 78.7 L200.9 75.6 L201.1 78.5 L201.2 76.0 L201.4 79.3 L201.6 76.0 L201.7 80.0 L201.9 76.9 L202.1 79.8 L202.3 75.9 L202.4 80.6 L202.6 76.1 L202.8 81.7 L203.0 76.9 L203.1 81.8 L203.3 77.7 L203.5 80.8 L203.7 77.3 L203.9 81.1 L204.1 78.4 L204.3 81.6 L204.5 78.5 L204.7 82.2 L204.9 78.1 L205.1 82.0 L205.3 78.3 L205.4 81.9 L205.6 79.1 L205.8 82.3 L206.0 78.7 L206.2 82.0 L206.4 79.8 L206.6 82.5 L206.8 79.9 L207.0 82.9 L207.2 80.1 L207.4 83.0 L207.6 79.9 L207.8 83.4 L208.0 80.2 L208.2 83.3 L208.4 80.3 L208.6 84.3 L208.8 81.2 L209.0 84.2 L209.2 81.2 L209.4 83.6 L209.6 80.2 L209.8 84.8 L210.0 80.8 L210.2 85.2 L210.4 80.3 L210.6 85.0 L210.8 81.2 L211.0 84.2 L211.2 80.5 L211.5 85.4 L211.7 81.7 L211.9 85.0 L212.1 81.6 L212.3 85.7 L212.6 81.9 L212.8 84.3 L213.0 80.9 L213.2 84.5 L213.4 81.5 L213.6 84.2 L213.7 81.2 L213.9 84.4 L214.1 80.9 L214.2 84.2 L214.4 79.6 L214.5 83.4 L214.7 80.5 L214.9 84.1 L215.0 79.1 L215.2 83.8 L215.3 79.9 L215.5 83.1 L215.6 79.5 L215.8 81.9 L215.9 79.2 L216.1 82.4 L216.3 78.6 L216.5 82.0 L216.6 78.6 L216.8 81.5 L217.0 78.6 L217.2 81.2 L217.5 77.6 L217.7 80.7 L217.9 77.7 L218.1 82.0 L218.3 78.2 L218.6 81.7 L218.8 76.9 L219.0 82.4 L219.2 77.3 L219.4 82.3 L219.7 78.6 L219.9 82.0 L220.1 77.8 L220.3 81.7 L220.5 78.6 L220.7 81.7 L221.0 78.0 L221.2 81.8 L221.4 78.0 L221.6 81.7 L221.8 78.1 L222.0 82.4 L222.3 79.3 L222.5 81.9 L222.7 78.2 L222.9 81.6 L223.1 78.4 L223.3 83.2 L223.6 78.1 L223.8 82.3 L224.0 78.9 L224.2 81.7 L224.4 79.0 L224.7 82.8 L224.9 78.6 L225.1 82.5 L225.3 79.2 L225.5 82.0 L225.7 79.8 L226.0 81.7 L226.2 79.8 L226.4 81.8 L226.6 79.7 L226.8 82.8 L227.0 79.5 L227.3 83.7 L227.5 79.0 L227.7 83.5 L227.9 78.6 L228.1 82.6 L228.3 79.6 L228.6 82.7 L228.8 79.8 L229.0 83.5 L229.2 80.2 L229.4 83.5 L229.6 78.8 L229.9 83.4 L230.1 79.0 L230.3 83.1 L230.5 78.8 L230.7 84.3 L231.0 79.3 L231.2 84.3 L231.4 79.6 L231.6 83.8 L231.8 80.6 L232.1 83.9 L232.3 80.1 L232.5 83.8 L232.7 80.1 L232.9 82.9 L233.2 79.9 L233.4 84.2 L233.6 79.7 L233.8 83.0 L234.0 79.6 L234.2 84.0 L234.5 80.5 L234.7 82.4 L234.9 79.8 L235.1 82.7 L235.3 80.0 L235.5 82.3 L235.7 79.9 L236.0 82.1 L236.2 80.0 L236.4 82.9 L236.6 78.7 L236.8 82.7 L237.0 79.7 L237.2 81.8 L237.4 78.7 L237.7 82.3 L237.9 79.1 L238.1 82.0 L238.3 77.9 L238.5 82.3 L238.7 79.2 L238.9 81.5 L239.1 79.2 L239.3 82.4 L239.6 78.8 L239.8 81.6 L240.0 78.9 L240.2 81.4 L240.4 77.7 L240.6 82.3 L240.8 78.2 L241.1 81.1 L241.3 77.4 L241.5 81.3 L241.7 78.2 L241.9 81.1 L242.2 77.6 L242.4 82.2 L242.6 77.7 L242.8 82.0 L243.0 78.1 L243.3 81.6 L243.5 78.6 L243.7 81.2 L243.9 78.6 L244.1 81.3 L244.3 78.3 L244.5 81.4 L244.7 78.5 L244.9 81.8 L245.1 78.4 L245.3 81.8 L245.5 79.3 L245.7 82.2 L245.9 79.8 L246.1 82.5 L246.3 79.2 L246.5 82.3 L246.7 79.7 L246.9 82.3 L247.0 79.9 L247.2 82.7 L247.4 80.3 L247.6 82.8 L247.8 80.6 L248.0 83.3 L248.2 80.2 L248.4 84.3 L248.5 80.9 L248.7 83.6 L248.9 81.4 L249.1 84.2 L249.3 81.1 L249.5 85.1 L249.7 80.7 L249.9 85.7 L250.1 81.4 L250.3 85.3 L250.5 82.1 L250.7 85.2 L250.9 82.5 L251.0 85.4 L251.2 82.8 L251.4 85.2 L251.6 82.0 L251.8 86.3 L252.0 82.9 L252.1 86.8 L252.3 83.5 L252.5 86.8 L252.7 83.1 L252.9 86.0 L253.1 82.7 L253.3 87.3 L253.5 83.8 L253.7 87.9 L253.9 82.6 L254.1 86.9 L254.3 83.7 L254.5 87.1 L254.7 83.3 L254.9 87.0 L255.2 84.4 L255.4 86.7 L255.6 83.5 L255.8 87.0 L256.0 83.1 L256.2 86.4 L256.4 83.8 L256.6 86.4 L256.8 84.1 L257.0 86.1 L257.2 83.3 L257.4 85.9 L257.5 83.3 L257.7 86.4 L257.9 82.9 L258.1 85.1 L258.2 82.7 L258.4 85.6 L258.6 82.4 L258.8 84.9 L258.9 82.4 L259.1 84.9 L259.3 81.3 L259.5 85.0 L259.6 81.4 L259.8 84.5 L260.0 80.8 L260.2 85.3 L260.3 81.1 L260.5 83.8 L260.7 80.8 L260.9 84.3 L261.1 80.7 L261.3 83.7 L261.5 80.2 L261.7 83.7 L261.9 79.9 L262.2 84.2 L262.4 80.0 L262.6 83.0 L262.8 79.4 L263.0 83.1 L263.3 80.4 L263.5 82.9 L263.7 78.9 L263.9 83.8 L264.1 79.6 L264.4 83.1 L264.6 79.3 L264.8 82.8 L265.0 79.6 L265.2 84.0 L265.5 80.0 L265.7 83.1 L265.9 78.9 L266.1 83.1 L266.3 79.8 L266.6 84.3 L266.8 79.1 L267.0 83.3 L267.2 80.1 L267.4 83.5 L267.7 79.0 L267.9 84.2 L268.1 80.5 L268.3 83.9 L268.5 80.3 L268.8 83.0 L269.0 80.1 L269.2 82.9 L269.4 79.4 L269.6 84.1 L269.9 80.1 L270.1 82.9 L270.3 79.9 L270.4 83.8 L270.6 81.2 L270.7 84.2 L270.8 80.9 L270.9 84.0 L271.1 80.6 L271.2 85.5 L271.3 81.4 L271.4 85.6 L271.5 82.0 L271.6 86.2 L271.7 82.4 L271.8 85.9 L271.9 81.8 L272.0 87.1 L272.1 82.8 L272.2 87.3 L272.3 82.9 L272.4 87.1 L272.6 83.7 L272.8 86.8 L273.0 85.6 L273.0 85.6 L273.1 85.2 L273.1 85.2 L273.1 84.8 L273.1 84.8 L273.1 84.3 L273.1 84.3 L273.1 83.9 L273.1 83.8 L273.1 83.4 L273.2 83.4 L273.2 83.0 L273.2 83.0 L273.2 82.6 L273.2 82.5 L273.2 82.1 L273.2 82.0 L273.2 81.7 L273.2 81.6 L273.2 81.2 L273.2 81.2 L273.2 80.8 L273.2 80.8 L273.2 80.4 L273.2 80.3 L273.2 79.9 L273.3 79.9 L273.3 79.4 L273.3 79.5 L273.3 79.0 L273.3 79.0 L273.3 78.6 L273.3 78.6 L273.3 78.2 L273.3 78.2 L273.3 77.7 L273.3 77.7 L273.3 77.2 L273.3 77.3 L273.3 76.8 L273.3 76.8 L273.3 76.4 L273.3 76.4 L273.3 76.0 L273.3 75.9 L273.3 75.6 L273.3 75.4 L273.4 75.1 L273.4 75.0 L273.4 74.7 L273.4 74.6 L273.4 74.2 L273.4 74.2 L273.4 73.7 L273.4 73.7 L273.4 73.3 L273.4 73.3 L273.4 72.9 L273.4 72.8 L273.4 72.4 L273.4 72.4 L273.4 72.0 L273.4 72.0 L273.4 71.5 L273.4 71.5 L273.4 71.1 L273.4 71.1 L273.4 70.6 L273.5 70.6 L273.5 70.2 L273.5 70.2 L273.5 69.8 L273.5 69.8 L273.5 69.4 L273.5 69.3 L273.5 68.9 L273.5 68.9 L273.5 68.5 L273.5 68.5 L273.5 68.0 L273.5 68.0 L273.5 67.6 L273.5 67.6 L273.5 67.1 L273.5 67.2 L273.5 66.7 L273.5 66.8 L273.5 66.3 L273.5 66.3 L273.6 65.8 L273.6 65.8 L273.6 65.4 L273.6 65.4 L273.6 65.0 L273.6 64.9 L273.6 64.5 L273.6 64.5 L273.6 64.1 L273.6 64.0 L273.6 63.6 L273.6 63.6 L273.6 63.2 L273.6 63.2 L273.6 62.7 L273.6 62.7 L273.6 62.3 L273.7 62.3 L273.7 61.9 L273.7 61.8 L273.7 61.4 L273.7 61.4 L273.7 61.0 L273.7 61.0 L273.7 60.6 L273.7 60.5 L273.7 60.1 L273.8 60.1 L273.8 59.7 L273.8 59.7 L273.8 59.2 L273.8 59.2 L273.8 58.8 L273.8 58.8 L273.9 58.4 L273.9 58.4 L273.9 57.9 L273.9 57.9 L273.9 57.5 L273.9 57.5 L274.0 57.0 L274.0 57.0 L274.0 56.6 L274.0 56.6 L274.0 56.1 L274.1 56.2 L274.1 55.8 L274.1 55.7 L274.1 55.3 L274.1 55.3 L274.1 54.9 L274.2 54.8 L274.2 54.4 L274.2 54.4 L274.2 54.0 L274.2 54.0 L274.3 53.6 L274.3 53.6 L274.3 53.0 L274.3 53.1 L274.3 52.6 L274.4 52.6 L274.4 52.2 L274.4 52.2 L274.4 51.8 L274.5 51.7 L274.5 51.4 L274.5 51.4 L274.5 50.9 L274.5 51.0 L274.6 50.5 L274.6 50.5 L274.6 50.0 L274.6 50.0 L274.7 49.6 L274.7 49.6 L274.7 49.1 L274.8 49.1 L274.8 48.7 L274.8 48.7 L274.8 48.3 L274.9 48.3 L274.9 47.9 L274.9 47.9 L275.0 47.4 L275.0 47.4 L275.0 47.0 L275.1 47.0 L275.1 46.5 L275.1 46.6 L275.2 46.1 L275.2 46.1 L275.2 45.7 L275.3 45.6 L275.3 45.3 L275.4 45.2 L275.4 44.8 L275.4 44.8 L275.5 44.4 L275.5 44.4 L275.6 44.0 L275.6 46.1 L275.7 41.2 L275.7 45.3 L275.8 40.7 L275.9 46.2 L275.9 40.4 L276.0 44.4 L276.0 40.4 L276.1 43.5 L276.2 40.1 L276.3 44.3 L276.3 39.3 L276.4 44.4 L276.5 38.9 L276.6 44.6 L276.6 37.2 L276.7 43.4 L276.8 37.0 L276.9 42.7 L277.0 36.8 L277.1 41.4 L277.2 37.6 L277.3 41.4 L277.4 35.3 L277.4 41.4 L277.5 35.6 L277.7 40.8 L277.8 35.2 L277.9 41.1 L278.0 35.1 L278.1 39.5 L278.2 35.3 L278.3 39.5 L278.5 35.2 L278.6 39.0 L278.7 33.3 L278.8 38.9 L279.0 33.0 L279.1 40.4 L279.3 31.6 L279.4 38.8 L279.6 33.7 L279.8 39.2 L279.9 32.6 L280.1 38.2 L280.3 32.6 L280.4 37.5 L280.6 33.6 L280.8 36.3 L281.0 32.4 L281.1 36.1 L281.3 32.2 L281.5 37.1 L281.7 31.5 L281.9 36.1 L282.0 30.9 L282.2 36.7 L282.4 31.4 L282.6 36.1 L282.8 31.0 L283.0 35.1 L283.2 30.8 L283.4 35.3 L283.6 30.3 L283.8 35.2 L284.0 30.1 L284.2 35.5 L284.4 30.4 L284.6 35.2 L284.8 29.3 L285.0 35.7 L285.2 29.1 L285.5 35.0 L285.7 30.1 L285.9 35.4 L286.1 29.0 L286.3 35.3 L286.5 29.6 L286.8 36.1 L287.0 30.3 L287.2 36.1 L287.4 30.6 L287.6 34.9 L287.8 30.7 L288.0 35.8 L288.2 31.1 L288.4 35.1 L288.6 31.8 L288.7 35.4 L288.9 30.2 L289.1 37.4 L289.3 30.7 L289.5 37.3 L289.6 31.4 L289.8 37.1 L290.0 31.4 L290.2 37.0 L290.3 31.4 L290.5 37.2 L290.7 31.9 L290.9 39.1 L291.0 31.6 L291.2 39.2 L291.4 31.7 L291.6 38.5 L291.8 32.7 L291.9 38.0 L292.1 32.8 L292.3 40.4 L292.5 34.1 L292.7 40.1 L292.9 32.8 L293.1 39.5 L293.3 34.8 L293.5 40.2 L293.7 32.7 L293.8 39.8 L294.0 34.5 L294.2 39.8 L294.4 34.8 L294.6 39.6 L294.8 35.6 L295.0 39.9 L295.2 35.1 L295.4 41.5 L295.6 33.7 L295.8 39.7 L296.0 35.3 L296.2 41.0 L296.4 35.4 L296.6 40.6 L296.8 36.0 L297.0 40.9 L297.2 35.9 L297.4 41.2 L297.7 35.6 L297.9 41.7 L298.1 36.3 L298.3 40.5 L298.5 35.4 L298.7 40.2 L298.9 34.2 L299.1 41.9 L299.3 35.2 L299.5 41.6 L299.7 33.5 L299.9 41.1 L300.0 35.0 L300.2 40.3 L300.4 34.1 L300.6 40.2 L300.7 34.4 L300.9 38.7 L301.1 34.2 L301.2 38.0 L301.4 33.5 L301.6 38.4 L301.7 34.0 L301.9 37.8 L302.0 32.8 L302.2 37.1 L302.4 32.0 L302.5 37.5 L302.7 32.1 L302.9 37.6 L303.0 32.3 L303.2 37.3 L303.4 31.6 L303.5 36.5 L303.7 32.0 L303.9 35.9 L304.0 31.5 L304.2 36.9 L304.4 31.7 L304.5 35.4 L304.7 30.2 L304.9 34.9 L305.0 31.3 L305.2 35.2 L305.3 29.8 L305.5 35.8 L305.6 29.4 L305.8 35.2 L305.9 29.0 L306.1 34.2 L306.2 27.8 L306.4 35.5 L306.5 27.6 L306.6 33.2 L306.8 29.1 L306.9 32.6 L307.1 28.4 L307.2 33.4 L307.4 28.7 L307.5 32.3 L307.7 27.0 L307.8 32.6 L307.9 27.9 L308.1 31.9 L308.3 27.0 L308.4 32.4 L308.6 25.4 L308.7 32.4 L308.9 26.6 L309.0 30.7 L309.2 25.2 L309.4 31.7 L309.5 26.4 L309.7 30.8 L309.9 25.0 L310.1 31.2 L310.3 24.2 L310.5 30.8 L310.7 24.8 L310.9 30.7 L311.1 24.5 L311.3 29.4 L311.6 24.7 L311.8 29.8 L312.0 24.0 L312.2 30.0 L312.4 24.3 L312.5 31.5 L312.7 25.1 L312.8 31.3 L313.0 25.0 L313.1 30.5 L313.3 26.0 L313.4 33.5 L313.5 26.0 L313.7 32.1 L313.8 27.1 L313.9 32.0 L314.0 28.2 L314.1 33.5 L314.3 28.4 L314.4 33.8 L314.5 28.5 L314.6 33.1 L314.7 28.3 L314.8 33.2 L314.9 29.4 L315.0 35.1 L315.2 28.6 L315.3 34.5 L315.4 29.4 L315.5 34.0 L315.6 30.8 L315.7 35.1 L315.8 29.6 L315.9 36.8 L316.1 30.5 L316.2 35.7 L316.3 31.9 L316.4 35.8 L316.6 31.1 L316.7 36.7 L316.8 31.3 L317.0 37.9 L317.1 32.4 L317.3 38.4 L317.4 32.3 L317.6 38.9 L317.7 32.7 L317.8 38.7 L318.0 31.9 L318.1 38.5 L318.2 32.6 L318.4 39.7 L318.5 34.2 L318.6 39.1 L318.7 34.5 L318.9 38.6 L319.0 34.8 L319.2 39.3 L319.3 34.5 L319.4 41.6 L319.6 36.0 L319.7 40.8 L319.9 34.8 L320.0 40.9 L320.2 34.6 L320.4 41.5 L320.5 36.2 L320.7 41.2 L320.9 34.7 L321.1 44.0 L321.4 35.3 L321.6 43.4 L321.8 36.6 L322.0 41.2 L322.2 35.7 L322.4 40.8 L322.6 35.7 L322.7 40.8 L322.9 36.3 L323.1 41.2 L323.2 35.0 L323.4 41.5 L323.5 33.9 L323.7 40.6 L323.8 35.4 L323.9 39.7 L324.1 35.3 L324.2 39.8 L324.3 33.6 L324.5 38.7 L324.6 32.4 L324.7 40.0 L324.8 32.0 L325.0 39.8 L325.1 32.5 L325.2 37.4 L325.3 33.3 L325.5 36.6 L325.6 33.1 L325.7 37.5 L325.8 32.7 L326.0 37.5 L326.1 30.3 L326.2 36.5 L326.4 30.3 L326.5 36.5 L326.6 30.6 L326.8 35.1 L326.9 30.0 L327.1 34.9 L327.2 30.7 L327.4 36.2 L327.5 29.1 L327.6 35.4 L327.8 30.3 L327.9 34.1 L328.0 29.5 L328.2 34.2 L328.3 29.2 L328.4 34.3 L328.5 27.0 L328.7 34.9 L328.8 26.9 L328.9 33.8 L329.1 27.4 L329.2 32.9 L329.3 26.2 L329.4 34.0 L329.6 26.4 L329.7 33.4 L329.8 26.7 L329.9 30.9 L330.1 25.6 L330.2 30.5 L330.3 25.5 L330.5 31.6 L330.6 25.9 L330.8 30.4 L330.9 24.7 L331.0 30.3 L331.2 25.6 L331.4 29.9 L331.5 25.6 L331.7 29.5 L331.9 25.4 L332.1 29.0 L332.2 24.1 L332.4 28.4 L332.7 23.0 L332.9 29.7 L333.1 22.9 L333.3 29.9 L333.5 24.0 L333.7 28.8 L333.9 23.2 L334.1 30.0 L334.2 22.8 L334.4 29.9 L334.6 23.7 L334.7 31.4 L334.8 24.6 L335.0 31.1 L335.1 25.8 L335.2 32.1 L335.4 25.9 L335.5 31.6 L335.6 24.2 L335.7 33.7 L335.8 25.5 L336.0 31.5 L336.1 26.3 L336.2 33.4 L336.3 26.0 L336.4 32.4 L336.5 26.2 L336.6 34.3 L336.7 26.8 L336.9 34.6 L337.0 28.0 L337.1 33.5 L337.2 29.1 L337.3 34.8 L337.4 29.4 L337.5 35.5 L337.6 29.7 L337.7 35.3 L337.8 30.5 L338.0 35.0 L338.1 30.9 L338.2 35.2 L338.3 30.9 L338.4 35.9 L338.5 29.6 L338.7 37.4 L338.8 31.8 L338.9 36.7 L339.0 30.6 L339.2 37.9 L339.3 32.6 L339.5 36.5 L339.6 32.8 L339.8 37.8 L339.9 33.3 L340.0 39.3 L340.2 32.3 L340.3 39.3 L340.4 33.5 L340.6 40.0 L340.7 33.0 L340.8 39.5 L341.0 34.5 L341.1 39.2 L341.2 34.6 L341.4 39.6 L341.5 35.4 L341.7 41.2 L341.8 36.0 L341.9 40.4 L342.1 34.8 L342.2 41.4 L342.4 35.8 L342.5 40.6 L342.7 37.2 L342.8 40.7 L343.0 37.1 L343.1 41.5 L343.3 37.3 L343.5 42.1 L343.7 35.2 L343.9 44.2 L344.1 36.6 L344.3 43.3 L344.5 37.6 L344.7 42.7 L344.9 37.3 L345.1 43.2 L345.3 37.8 L345.5 41.5 L345.7 37.8 L345.9 42.0 L346.0 35.7 L346.2 42.3 L346.3 36.6 L346.5 41.1 L346.6 35.4 L346.7 41.8 L346.9 35.1 L347.0 39.9 L347.1 35.4 L347.3 40.4 L347.4 34.4 L347.5 40.8 L347.6 33.0 L347.8 41.1 L347.9 33.9 L348.0 41.1 L348.1 33.6 L348.3 39.1 L348.4 33.5 L348.5 38.3 L348.6 33.1 L348.8 38.8 L348.9 33.1 L349.0 37.7 L349.1 31.6 L349.3 37.7 L349.4 30.5 L349.6 36.4 L349.7 32.5 L349.9 36.8 L350.0 32.0 L350.2 36.7 L350.3 31.2 L350.5 36.4 L350.6 30.1 L350.8 37.2 L350.9 29.2 L351.1 35.9 L351.2 28.7 L351.4 35.1 L351.5 29.6 L351.7 35.2 L351.8 29.3 L352.0 35.2 L352.1 28.1 L352.3 35.2 L352.4 27.9 L352.6 34.1 L352.7 27.8 L352.9 34.8 L353.0 26.7 L353.2 34.8 L353.4 27.2 L353.5 34.0 L353.7 28.2 L353.9 32.9 L354.1 26.2 L354.2 33.2 L354.4 26.4 L354.6 33.5 L354.9 26.7 L355.1 31.7 L355.3 25.8 L355.5 32.2 L355.7 26.9 L355.9 31.7 L356.1 27.5 L356.3 33.2 L356.5 26.1 L356.7 31.9 L356.9 27.2 L357.0 32.9 L357.2 27.1 L357.3 33.4 L357.5 26.4 L357.6 33.7 L357.8 27.8 L357.9 34.2 L358.0 28.1 L358.2 34.8 L358.3 29.6 L358.4 33.5 L358.6 30.6 L358.7 34.3 L358.8 29.2 L359.0 36.1 L359.1 29.9 L359.2 34.8 L359.3 30.9 L359.5 36.4 L359.6 30.9 L359.7 36.6 L359.8 32.0 L360.0 37.3 L360.1 32.8 L360.2 36.9 L360.4 31.6 L360.5 39.0 L360.6 30.7 L360.8 39.1 L360.9 31.6 L361.0 38.8 L361.2 32.4 L361.3 38.7 L361.5 32.2 L361.6 39.2 L361.8 33.5 L362.0 40.6 L362.2 33.1 L362.3 40.3 L362.5 32.2 L362.7 39.4 L362.8 35.0 L363.0 40.2 L363.2 35.8 L363.3 41.0 L363.5 34.2 L363.7 40.1 L363.8 34.6 L364.0 40.7 L364.2 35.9 L364.4 40.7 L364.5 35.0 L364.7 41.3 L364.9 34.5 L365.1 42.0 L365.3 36.3 L365.4 43.6 L365.6 37.0 L365.8 41.6 L366.0 36.0 L366.2 44.1 L366.4 35.5 L366.6 43.5 L366.9 37.7 L367.1 41.8 L367.3 36.3 L367.5 43.2 L367.7 36.3 L368.0 42.2 L368.2 36.4 L368.4 42.0 L368.6 37.4 L368.8 43.1 L369.0 35.5 L369.2 41.3 L369.4 35.4 L369.5 43.9 L369.7 34.7 L369.9 41.4 L370.1 36.8 L370.3 40.7 L370.5 36.8 L370.7 40.3 L370.8 35.7 L371.0 40.4 L371.2 36.3 L371.4 39.7 L371.6 35.7 L371.8 40.5 L372.0 34.9 L372.2 40.8 L372.4 34.7 L372.6 40.3 L372.8 35.0 L372.9 39.6 L373.1 34.5 L373.3 38.8 L373.5 34.6 L373.7 40.3 L373.9 33.9 L374.1 39.3 L374.3 33.8 L374.5 39.6 L374.7 32.9 L374.9 40.1 L375.1 33.1 L375.3 40.0 L375.5 32.1 L375.7 37.9 L375.9 33.2 L376.1 38.0 L376.4 32.5 L376.6 38.5 L376.8 33.9 L377.0 38.6 L377.2 32.5 L377.4 38.1 L377.5 32.8 L377.7 39.3 L377.9 33.1 L378.1 38.6 L378.2 33.0 L378.4 39.5 L378.5 33.4 L378.7 39.5 L378.8 35.2 L379.0 39.6 L379.1 34.2 L379.3 41.6 L379.4 35.0 L379.6 40.0 L379.7 36.8 L379.9 42.4 L380.0 35.7 L380.1 43.2 L380.3 35.7 L380.4 42.9 L380.6 35.5 L380.7 42.0 L380.8 37.1 L381.0 42.2 L381.1 35.4 L381.3 42.5 L381.4 36.1 L381.6 42.4 L381.7 37.9 L381.9 44.3 L382.0 38.1 L382.2 44.2 L382.3 37.9 L382.5 44.0 L382.6 37.3 L382.8 45.0 L383.0 38.1 L383.1 45.2 L383.3 40.4 L383.4 45.2 L383.6 40.1 L383.7 44.4 L383.9 40.5 L384.0 45.9 L384.2 41.7 L384.3 46.4 L384.4 40.8 L384.6 46.8 L384.7 40.1 L384.9 46.6 L385.0 42.1 L385.1 46.5 L385.3 42.3 L385.4 47.3 L385.6 42.8 L385.7 47.5 L385.9 43.1 L386.0 47.4 L386.2 42.7 L386.3 49.2 L386.5 43.0 L386.6 47.7 L386.8 43.9 L386.9 49.1 L387.1 44.4 L387.3 50.0 L387.4 44.6 L387.6 50.1 L387.8 44.4 L387.9 49.0 L388.1 45.5 L388.3 49.4 L388.5 44.6 L388.7 51.3 L388.9 44.2 L389.1 50.9 L389.4 46.0 L389.6 51.0 L389.8 43.9 L390.0 50.5 L390.2 44.3 L390.4 50.8 L390.7 44.8 L390.9 49.5 L391.1 44.4 L391.3 49.9 L391.5 43.9 L391.7 49.5 L391.9 44.5 L392.1 49.2 L392.3 43.7 L392.5 50.6 L392.6 43.4 L392.8 49.3 L393.0 43.7 L393.2 49.9 L393.4 43.9 L393.6 48.0 L393.8 42.4 L394.0 48.6 L394.2 43.0 L394.4 48.0 L394.6 43.4 L394.8 47.6 L395.0 42.1 L395.2 48.4 L395.4 43.4 L395.6 47.2 L395.8 42.3 L396.0 47.3 L396.2 43.4 L396.4 46.9 L396.6 42.2 L396.8 48.2 L397.0 42.3 L397.2 48.5 L397.4 40.7 L397.6 48.8 L397.8 41.7 L398.1 47.4 L398.3 40.5 L398.5 46.7 L398.7 40.9 L398.9 46.7 L399.1 41.0 L399.3 47.8 L399.6 40.1 L399.8 46.5 L400.0 40.1 L400.2 45.8 L400.4 42.2 L400.6 47.1 L400.8 42.1 L400.9 47.6 L401.1 43.0 L401.2 47.2 L401.4 42.6 L401.5 48.3 L401.7 42.2 L401.8 47.9 L401.9 43.7 L402.1 48.0 L402.2 43.5 L402.3 47.6 L402.5 44.9 L402.6 49.0 L402.7 44.1 L402.8 49.1 L403.0 44.7 L403.1 49.2 L403.2 45.9 L403.3 49.9 L403.4 46.6 L403.6 50.2 L403.7 45.6 L403.8 51.6 L403.9 45.5 L404.1 50.9 L404.2 46.5 L404.3 50.9 L404.5 47.8 L404.6 52.5 L404.8 48.3 L404.9 51.5 L405.1 48.3 L405.2 51.7 L405.3 48.6 L405.5 52.1 L405.6 47.7 L405.8 53.1 L405.9 49.1 L406.0 53.7 L406.2 48.2 L406.3 54.3 L406.4 49.4 L406.6 54.2 L406.7 49.8 L406.8 54.4 L407.0 50.3 L407.1 55.5 L407.2 50.6 L407.4 54.6 L407.5 51.6 L407.6 55.3 L407.8 50.6 L407.9 55.8 L408.1 51.6 L408.2 55.8 L408.3 51.3 L408.5 56.2 L408.6 52.3 L408.8 56.5 L408.9 52.7 L409.1 56.9 L409.2 53.1 L409.4 56.9 L409.6 52.6 L409.8 57.6 L409.9 52.7 L410.1 58.5 L410.3 53.5 L410.6 58.7 L410.8 54.0 L411.0 57.5 L411.2 52.9 L411.4 59.0 L411.6 54.3 L411.9 58.3 L412.1 54.4 L412.3 58.8 L412.5 52.8 L412.7 57.5 L413.0 52.9 L413.2 58.5 L413.4 54.0 L413.6 57.7 L413.8 54.0 L414.1 57.2 L414.3 53.6 L414.5 56.9 L414.7 53.0 L414.9 57.5 L415.1 53.4 L415.4 58.4 L415.6 53.9 L415.8 57.4 L416.0 52.6 L416.2 58.1 L416.4 53.0 L416.7 58.1 L416.9 52.7 L417.1 57.8 L417.3 52.2 L417.5 57.6 L417.7 52.1 L418.0 57.5 L418.2 51.8 L418.4 57.7 L418.6 53.6 L418.8 56.9 L419.1 53.2 L419.3 56.5 L419.5 53.3 L419.7 57.0 L419.9 52.3 L420.2 57.4 L420.4 53.2 L420.6 58.2 L420.8 51.8 L421.0 58.7 L421.1 53.9 L421.3 57.4 L421.5 53.9 L421.7 58.3 L421.8 53.9 L422.0 58.7 L422.2 55.0 L422.3 59.1 L422.5 54.0 L422.7 59.0 L422.8 55.4 L423.0 59.2 L423.1 55.6 L423.3 59.1 L423.4 56.3 L423.6 59.6 L423.8 55.5 L423.9 59.9 L424.1 55.8 L424.2 60.2 L424.4 57.1 L424.6 60.8 L424.7 56.6 L424.9 61.2 L425.1 56.6 L425.3 61.3 L425.4 56.1 L425.6 63.4 L425.8 56.5 L425.9 63.0 L426.1 58.0 L426.2 61.7 L426.4 57.7 L426.6 62.2 L426.7 58.9 L426.9 62.7 L427.0 59.4 L427.2 63.1 L427.3 58.5 L427.5 64.2 L427.6 59.8 L427.8 63.2 L428.0 58.6 L428.1 64.7 L428.3 59.7 L428.4 63.9 L428.6 60.8 L428.8 64.5 L429.0 61.1 L429.1 65.6 L429.3 60.8 L429.5 64.4 L429.7 61.7 L429.9 66.3 L430.1 61.5 L430.3 65.3 L430.5 62.0 L430.7 65.2 L430.9 60.7 L431.2 64.9 L431.4 61.1 L431.6 65.5 L431.8 60.4 L432.0 66.2 L432.2 60.5 L432.5 65.0 L432.7 60.8 L432.9 64.4 L433.1 61.6 L433.3 64.6 L433.5 60.2 L433.7 65.1 L433.9 60.1 L434.1 64.3 L434.3 61.3 L434.5 65.0 L434.7 60.3 L434.9 64.5 L435.2 60.4 L435.4 64.0 L435.6 60.2 L435.8 64.8 L436.0 60.2 L436.2 63.7 L436.5 60.1 L436.7 64.6 L436.9 60.2 L437.1 65.1 L437.3 60.0 L437.5 64.5 L437.7 60.4 L438.0 64.1 L438.2 61.3 L438.4 64.1 L438.6 60.9 L438.7 65.1 L438.9 61.3 L439.1 66.2 L439.3 61.4 L439.5 65.0 L439.7 61.5 L439.9 65.7 L440.1 62.8 L440.3 65.2 L440.4 62.6 L440.6 66.0 L440.8 62.6 L441.0 65.5 L441.2 62.7 L441.3 66.4 L441.5 62.7 L441.7 66.3 L441.9 63.7 L442.1 67.6 L442.3 63.2 L442.4 67.2 L442.6 64.4 L442.8 67.2 L443.0 64.6 L443.2 68.4 L443.4 64.6 L443.5 68.3 L443.7 64.5 L443.9 67.8 L444.1 65.0 L444.3 67.5 L444.5 65.8 L444.7 68.3 L444.9 65.5 L445.1 68.0 L445.3 65.4 L445.5 68.9 L445.7 65.2 L446.0 68.9 L446.2 66.2 L446.4 68.0 L446.6 65.8 L446.8 68.5 L447.0 66.4 L447.3 68.2 L447.5 65.6 L447.7 68.3 L447.9 65.4 L448.1 69.1 L448.4 66.1 L448.6 69.0 L448.8 65.2 L449.0 68.1 L449.2 65.5 L449.4 68.7 L449.7 65.5 L449.9 69.1 L450.1 65.4 L450.3 68.6 L450.5 65.0 L450.7 68.8 L450.9 65.1 L451.2 68.6 L451.4 65.3 L451.6 68.4 L451.8 65.4 L452.0 68.0 L452.2 65.0 L452.4 68.2 L452.7 65.1 L452.9 67.5 L453.1 64.4 L453.3 68.8 L453.5 63.5 L453.7 68.0 L453.9 64.5 L454.1 68.2 L454.4 64.3 L454.6 67.2 L454.8 64.1 L455.0 66.8 L455.2 64.6 L455.4 67.8 L455.7 64.0 L455.9 66.7 L456.1 63.9 L456.3 66.6 L456.5 63.7 L456.7 66.7 L457.0 63.9 L457.2 67.2 L457.4 63.7 L457.6 67.3 L457.8 63.9 L458.1 67.6 L458.3 63.4 L458.5 67.4 L458.7 62.6 L458.9 67.6 L459.2 63.8 L459.4 67.9 L459.6 63.9 L459.8 67.4 L460.0 64.1 L460.2 67.4 L460.4 63.9 L460.6 67.1 L460.8 64.0 L461.0 67.5 L461.2 64.7 L461.4 68.3 L461.6 64.7 L461.8 67.5 L462.0 64.5 L462.2 68.8 L462.4 64.4 L462.6 68.3 L462.8 64.7 L463.0 69.0 L463.2 65.4 L463.4 69.1 L463.6 66.2 L463.8 68.8 L464.0 65.8 L464.2 69.9 L464.4 65.4 L464.6 69.2 L464.8 65.5 L465.0 70.2 L465.2 65.8 L465.5 70.0 L465.7 66.4 L465.9 69.9 L466.1 67.3 L466.3 69.7 L466.5 66.7 L466.7 70.5 L466.9 67.4 L467.1 70.5 L467.4 67.2 L467.6 70.6 L467.8 67.3 L468.0 70.1 L468.2 67.0 L468.4 70.2 L468.7 67.4 L468.9 70.6 L469.1 67.1 L469.3 70.2 L469.5 67.5 L469.8 70.3 L470.0 67.8 L470.2 70.7 L470.4 67.2 L470.6 69.7 L470.9 67.8 L471.1 69.8 L471.3 67.1 L471.5 70.0 L471.7 67.1 L472.0 70.6 L472.2 66.7 L472.4 70.4 L472.6 67.6 L472.8 70.2 L473.1 66.8 L473.3 70.6 L473.5 67.0 L473.7 70.2 L473.9 67.7 L474.2 69.6 L474.4 67.4 L474.6 70.0 L474.8 66.9 L475.0 70.2 L475.3 66.3 L475.5 69.7 L475.7 66.9 L475.9 69.8 L476.1 66.9 L476.4 70.4 L476.6 67.2 L476.8 69.6 L477.0 67.7 L477.2 70.4 L477.5 67.2 L477.7 70.6 L477.9 66.2 L478.1 71.3 L478.3 65.7 L478.6 70.8 L478.8 67.2 L479.0 70.2 L479.2 67.3 L479.4 70.0 L479.6 67.0 L479.9 70.8 L480.1 67.7 L480.3 70.7 L480.5 67.1 L480.7 70.9 L480.9 67.5 L481.1 71.0 L481.3 67.5 L481.5 71.6 L481.7 67.7 L481.9 71.0 L482.1 68.5 L482.3 71.8 L482.5 68.5 L482.7 72.2 L482.9 69.1 L483.1 71.5 L483.3 68.6 L483.5 72.5 L483.7 69.1 L483.9 72.4 L484.1 69.3 L484.3 72.1 L484.5 69.7 L484.7 72.9 L484.9 69.4 L485.1 72.5 L485.2 69.5 L485.4 73.4 L485.6 70.3 L485.8 73.1 L486.0 70.5 L486.2 73.2 L486.4 71.0 L486.7 73.4 L486.9 70.9 L487.1 74.4 L487.3 70.6 L487.5 73.8 L487.7 70.8 L487.9 74.1 L488.1 71.0 L488.3 74.0 L488.5 71.5 L488.8 73.5 L489.0 71.4 L489.2 73.5 L489.4 72.1 L489.6 74.2 L489.8 71.3 L490.1 74.0 L490.3 70.9 L490.5 74.7 L490.7 71.4 L490.9 73.6 L491.2 71.6 L491.4 74.2 L491.6 71.3 L491.8 73.9 L492.0 70.7 L492.2 74.6 L492.5 70.2 L492.7 74.9 L492.9 70.2 L493.1 75.0 L493.3 70.9 L493.5 74.2 L493.7 70.6 L494.0 73.6 L494.2 71.1 L494.4 73.5 L494.6 70.6 L494.8 72.9 L495.0 70.7 L495.2 73.1 L495.5 69.9 L495.7 74.2 L495.9 70.4 L496.1 72.8 L496.3 69.3 L496.5 73.2 L496.7 69.6 L497.0 73.7 L497.2 69.9 L497.4 73.4 L497.6 69.8 L497.8 72.8 L498.0 69.2 L498.3 72.8 L498.5 70.0 L498.7 72.3 L498.9 69.5 L499.1 72.3 L499.4 70.0 L499.6 72.2 L499.8 70.2 L500.0 72.3 L500.2 69.8 L500.5 73.3 L500.7 69.7 L500.9 72.1 L501.1 69.6 L501.3 72.5 L501.6 69.0 L501.8 73.4 L502.0 69.5 L502.2 72.9 L502.4 70.0 L502.7 72.3 L502.9 69.5 L503.1 72.2 L503.3 69.7 L503.5 73.3 L503.8 70.1 L504.0 73.0 L504.2 69.7 L504.4 73.6 L504.6 69.6 L504.9 73.0 L505.1 69.6 L505.3 72.2 L505.5 69.6 L505.7 72.2 L506.0 69.6 L506.2 72.6 L506.4 69.5 L506.6 72.5 L506.8 70.5 L507.1 72.4 L507.3 69.9 L507.5 71.8" fill="none" stroke="#fa0606" stroke-width="1.6" stroke-linejoin="round" stroke-linecap="round"/>
<path d="M48.0 184.0 L48.6 184.5 L49.0 185.1 L49.4 185.9 L49.7 186.6 L49.9 187.4 L50.2 188.1 L50.4 188.9 L50.6 189.7 L50.7 190.5 L50.8 191.3 L51.0 192.0 L51.1 192.8 L51.2 193.6 L51.3 194.4 L51.4 195.2 L51.6 196.0 L51.7 196.8 L51.8 197.6 L51.9 198.4 L52.0 199.2 L52.1 200.0 L52.2 200.8 L52.4 201.6 L52.5 202.3 L52.6 203.1 L52.7 203.9 L52.8 204.7 L52.9 205.5 L53.1 206.3 L53.2 207.1 L53.3 207.9 L53.4 208.7 L53.5 209.5 L53.6 210.3 L53.7 211.1 L53.8 211.9 L53.9 212.6 L54.0 213.4 L54.2 214.2 L54.3 215.0 L54.4 215.8 L54.5 216.6 L54.7 217.4 L54.8 218.2 L55.0 219.0 L55.2 219.7 L55.4 220.5 L55.6 221.3 L55.8 222.1 L56.0 222.8 L56.2 223.6 L56.4 224.4 L56.6 225.2 L56.8 225.9 L57.1 226.7 L57.3 227.4 L57.6 228.2 L58.0 228.9 L58.4 229.6 L59.0 230.1 L59.6 230.6 L60.4 230.9 L61.1 231.0 L61.7 230.4 L62.1 229.7 L62.4 229.0 L62.6 228.2 L62.9 227.5 L63.1 226.7 L63.3 225.9 L63.5 225.1 L63.8 224.4 L64.0 223.6 L64.2 222.8 L64.4 222.1 L64.6 221.3 L64.8 220.5 L65.1 219.8 L65.3 219.0 L65.5 218.2 L65.6 217.4 L65.8 216.6 L66.0 215.9 L66.1 215.1 L66.3 214.3 L66.5 213.5 L66.7 212.7 L66.9 212.0 L67.2 211.2 L67.8 211.3 L68.1 212.0 L68.4 212.8 L68.6 213.5 L68.7 214.3 L68.9 215.1 L69.1 215.9 L69.2 216.7 L69.4 217.4 L69.6 218.2 L69.8 219.0 L69.9 219.8 L70.1 220.6 L70.3 221.3 L70.5 222.1 L70.7 222.9 L70.9 223.7 L71.1 224.5 L71.2 225.2 L71.4 226.0 L71.6 226.8 L71.7 227.6 L71.9 228.4 L72.1 229.1 L72.3 229.9 L72.5 230.7 L72.6 231.5 L72.9 232.3 L73.1 233.0 L73.3 233.8 L73.6 234.5 L73.9 235.3 L74.2 236.0 L74.6 236.7 L74.9 237.4 L75.3 238.1 L75.7 238.8 L76.2 239.5 L76.7 240.1 L77.2 240.7 L77.8 241.3 L78.4 241.7 L79.1 242.1 L79.8 242.5 L80.5 242.9 L81.3 243.2 L82.0 243.6 L82.6 244.1 L83.3 244.6 L83.9 245.1 L84.5 245.6 L85.1 246.2 L85.6 246.7 L86.2 247.3 L86.8 247.8 L87.3 248.4 L87.9 249.0 L88.5 249.5 L89.0 250.1 L89.6 250.7 L90.2 251.2 L90.8 251.7 L91.4 252.3 L91.9 252.8 L92.5 253.4 L93.1 254.0 L93.7 254.5 L94.3 255.1 L94.9 255.6 L95.5 256.1 L96.1 256.6 L96.8 257.1 L97.4 257.5 L98.1 257.9 L98.8 258.2 L99.6 258.6 L100.3 259.0 L101.0 259.2 L101.8 259.4 L102.6 259.5 L103.4 259.5 L104.2 259.5 L105.0 259.5 L105.8 259.5 L106.6 259.4 L107.4 259.4 L108.2 259.3 L109.0 259.3 L109.8 259.2 L110.6 259.1 L111.1 258.7 L111.3 257.9 L111.4 257.1 L111.4 256.3 L111.5 255.5 L111.6 254.7 L111.7 253.9 L111.8 253.1 L112.2 252.5 L113.0 252.3 L113.7 252.2 L114.5 252.2 L115.3 252.1 L116.1 252.0 L116.9 251.7 L117.5 251.2 L118.1 250.7 L118.7 250.1 L119.3 249.6 L119.9 249.0 L120.5 248.5 L121.1 248.0 L121.8 247.6 L122.6 247.5 L123.3 247.7 L124.0 248.2 L124.6 248.7 L125.2 249.3 L125.8 249.8 L126.4 250.3 L126.9 251.0 L127.4 251.6 L127.9 252.2 L128.4 252.9 L128.9 253.4 L129.6 253.9 L130.3 253.9 L130.9 253.4 L131.4 252.7 L131.7 252.0 L132.1 251.3 L132.4 250.6 L132.8 249.8 L133.1 249.1 L133.5 248.4 L133.9 247.7 L134.3 247.0 L134.7 246.3 L135.1 245.6 L135.5 244.9 L135.9 244.2 L136.3 243.6 L136.7 242.9 L137.3 242.3 L138.0 242.0 L138.6 242.4 L139.0 243.1 L139.4 243.9 L139.7 244.6 L140.0 245.3 L140.3 246.1 L140.6 246.8 L141.0 247.5 L141.4 248.2 L141.8 248.9 L142.1 249.6 L142.5 250.4 L142.8 251.1 L143.2 251.8 L143.5 252.5 L144.0 253.2 L144.4 253.8 L145.0 254.4 L145.8 254.4 L146.4 253.9 L146.8 253.2 L147.2 252.5 L147.5 251.7 L147.8 251.0 L148.0 250.3 L148.3 249.5 L148.6 248.7 L148.9 248.0 L149.1 247.2 L149.4 246.5 L149.7 245.7 L150.0 245.0 L150.3 244.3 L150.6 243.5 L150.8 242.7 L151.1 242.0 L151.3 241.2 L151.5 240.4 L151.7 239.7 L152.0 238.9 L152.2 238.2 L152.5 237.4 L152.8 236.7 L153.1 235.9 L153.5 235.3 L154.3 235.1 L154.9 235.6 L155.3 236.2 L155.6 237.0 L156.0 237.7 L156.2 238.4 L156.5 239.2 L156.8 240.0 L157.0 240.7 L157.2 241.5 L157.5 242.2 L157.7 243.0 L157.9 243.8 L158.2 244.6 L158.4 245.3 L158.6 246.1 L158.9 246.9 L159.1 247.6 L159.3 248.4 L159.6 249.1 L159.9 249.9 L160.2 250.6 L160.5 251.4 L160.9 252.1 L161.4 252.7 L162.1 253.0 L162.7 252.4 L163.0 251.7 L163.3 251.0 L163.5 250.2 L163.7 249.4 L163.9 248.7 L164.1 247.9 L164.3 247.1 L164.5 246.3 L164.7 245.6 L164.8 244.8 L165.0 244.0 L165.1 243.2 L165.3 242.4 L165.4 241.6 L165.6 240.8 L165.7 240.1 L165.9 239.3 L166.0 238.5 L166.1 237.7 L166.3 236.9 L166.4 236.1 L166.6 235.3 L166.7 234.5 L166.9 233.8 L167.0 233.0 L167.2 232.2 L167.4 231.4 L167.5 230.6 L167.7 229.8 L167.9 229.1 L168.1 228.3 L168.3 227.5 L168.5 226.7 L168.7 226.0 L169.0 225.2 L169.4 224.5 L170.0 224.0 L170.6 224.5 L170.9 225.2 L171.2 225.9 L171.4 226.7 L171.6 227.5 L171.8 228.3 L172.0 229.0 L172.1 229.8 L172.3 230.6 L172.5 231.4 L172.6 232.2 L172.8 233.0 L172.9 233.8 L173.1 234.5 L173.2 235.3 L173.3 236.1 L173.5 236.9 L173.6 237.7 L173.8 238.5 L173.9 239.3 L174.1 240.1 L174.2 240.8 L174.3 241.6 L174.5 242.4 L174.7 243.2 L174.8 244.0 L175.0 244.8 L175.2 245.5 L175.3 246.3 L175.5 247.1 L175.8 247.9 L176.0 248.6 L176.3 249.4 L176.9 250.0 L177.5 249.6 L177.9 248.9 L178.1 248.2 L178.4 247.4 L178.6 246.6 L178.8 245.9 L178.9 245.1 L179.1 244.3 L179.3 243.5 L179.4 242.7 L179.6 241.9 L179.7 241.1 L179.8 240.4 L180.0 239.6 L180.1 238.8 L180.2 238.0 L180.3 237.2 L180.5 236.4 L180.6 235.6 L180.7 234.8 L180.8 234.0 L181.0 233.2 L181.1 232.4 L181.2 231.7 L181.3 230.9 L181.4 230.1 L181.5 229.3 L181.6 228.5 L181.8 227.7 L181.9 226.9 L182.0 226.1 L182.1 225.3 L182.2 224.5 L182.4 223.7 L182.5 222.9 L182.6 222.1 L182.7 221.4 L182.8 220.6 L183.0 219.8 L183.1 219.0 L183.2 218.2 L183.4 217.4 L183.5 216.6 L183.7 215.8 L183.8 215.1 L184.0 214.3 L184.2 213.5 L184.3 212.7 L184.5 211.9 L184.7 211.2 L185.0 210.4 L185.3 209.7 L185.8 209.1 L186.4 209.4 L186.7 210.1 L187.0 210.9 L187.2 211.7 L187.3 212.5 L187.5 213.2 L187.6 214.0 L187.8 214.8 L187.9 215.6 L188.0 216.4 L188.2 217.2 L188.3 218.0 L188.4 218.8 L188.5 219.6 L188.6 220.4 L188.7 221.1 L188.8 221.9 L188.9 222.7 L189.0 223.5 L189.2 224.3 L189.3 225.1 L189.4 225.9 L189.5 226.7 L189.6 227.5 L189.7 228.3 L189.8 229.1 L189.9 229.9 L190.0 230.7 L190.1 231.5 L190.2 232.3 L190.3 233.1 L190.4 233.8 L190.5 234.6 L190.6 235.4 L190.7 236.2 L190.9 237.0 L191.0 237.8 L191.1 238.6 L191.3 239.4 L191.4 240.2 L191.5 241.0 L191.7 241.7 L191.9 242.5 L192.1 243.3 L192.3 244.1 L192.7 244.8 L193.3 244.8 L193.7 244.1 L194.0 243.4 L194.2 242.6 L194.4 241.8 L194.6 241.0 L194.7 240.2 L194.9 239.4 L195.0 238.7 L195.1 237.9 L195.3 237.1 L195.4 236.3 L195.5 235.5 L195.6 234.7 L195.7 233.9 L195.8 233.1 L195.9 232.3 L196.0 231.5 L196.2 230.7 L196.3 229.9 L196.4 229.2 L196.5 228.4 L196.6 227.6 L196.7 226.8 L196.8 226.0 L196.9 225.2 L196.9 224.4 L197.0 223.6 L197.1 222.8 L197.2 222.0 L197.3 221.2 L197.4 220.4 L197.5 219.6 L197.6 218.8 L197.7 218.0 L197.8 217.2 L197.9 216.4 L198.0 215.6 L198.1 214.8 L198.2 214.1 L198.3 213.3 L198.4 212.5 L198.5 211.7 L198.6 210.9 L198.7 210.1 L198.8 209.3 L198.9 208.5 L199.0 207.7 L199.1 206.9 L199.2 206.1 L199.3 205.3 L199.4 204.5 L199.5 203.7 L199.7 202.9 L199.8 202.2 L199.9 201.4 L200.1 200.6 L200.2 199.8 L200.3 199.0 L200.5 198.2 L200.7 197.4 L200.9 196.7 L201.1 195.9 L201.4 195.2 L201.9 194.5 L202.4 195.0 L202.7 195.7 L202.9 196.5 L203.1 197.3 L203.3 198.1 L203.4 198.8 L203.5 199.6 L203.7 200.4 L203.8 201.2 L203.9 202.0 L204.0 202.8 L204.1 203.6 L204.2 204.4 L204.3 205.2 L204.4 206.0 L204.5 206.8 L204.6 207.6 L204.7 208.4 L204.8 209.2 L204.9 209.9 L205.0 210.7 L205.1 211.5 L205.2 212.3 L205.3 213.1 L205.3 213.9 L205.4 214.7 L205.5 215.5 L205.6 216.3 L205.7 217.1 L205.8 217.9 L205.9 218.7 L205.9 219.5 L206.0 220.3 L206.1 221.1 L206.2 221.9 L206.3 222.7 L206.4 223.5 L206.5 224.3 L206.5 225.1 L206.6 225.9 L206.7 226.7 L206.8 227.5 L206.9 228.2 L207.0 229.0 L207.1 229.8 L207.2 230.6 L207.3 231.4 L207.4 232.2 L207.5 233.0 L207.6 233.8 L207.8 234.6 L207.9 235.4 L208.0 236.2 L208.1 237.0 L208.3 237.8 L208.5 238.5 L208.6 239.3 L208.9 240.1 L209.2 240.8 L209.8 240.7 L210.1 240.0 L210.3 239.2 L210.5 238.4 L210.7 237.7 L210.8 236.9 L210.9 236.1 L211.1 235.3 L211.2 234.5 L211.3 233.7 L211.4 232.9 L211.5 232.1 L211.6 231.3 L211.7 230.5 L211.8 229.7 L211.9 228.9 L212.0 228.1 L212.0 227.3 L212.1 226.5 L212.2 225.7 L212.3 225.0 L212.4 224.2 L212.5 223.4 L212.5 222.6 L212.6 221.8 L212.7 221.0 L212.8 220.2 L212.9 219.4 L212.9 218.6 L213.0 217.8 L213.1 217.0 L213.2 216.2 L213.2 215.4 L213.3 214.6 L213.4 213.8 L213.5 213.0 L213.5 212.2 L213.6 211.4 L213.7 210.6 L213.8 209.8 L213.8 209.0 L213.9 208.2 L214.0 207.4 L214.1 206.6 L214.1 205.8 L214.2 205.0 L214.3 204.2 L214.4 203.4 L214.4 202.6 L214.5 201.8 L214.6 201.0 L214.7 200.3 L214.8 199.5 L214.8 198.7 L214.9 197.9 L215.0 197.1 L215.1 196.3 L215.2 195.5 L215.3 194.7 L215.4 193.9 L215.5 193.1 L215.6 192.3 L215.7 191.5 L215.8 190.7 L215.9 189.9 L216.0 189.1 L216.1 188.3 L216.3 187.5 L216.4 186.8 L216.6 186.0 L216.8 185.2 L217.1 184.5 L217.6 184.1 L218.0 184.7 L218.3 185.5 L218.4 186.3 L218.6 187.1 L218.8 187.9 L218.9 188.7 L219.0 189.4 L219.1 190.2 L219.2 191.0 L219.3 191.8 L219.4 192.6 L219.5 193.4 L219.6 194.2 L219.7 195.0 L219.8 195.8 L219.9 196.6 L220.0 197.4 L220.1 198.2 L220.2 199.0 L220.2 199.8 L220.3 200.6 L220.4 201.4 L220.5 202.2 L220.6 203.0 L220.6 203.8 L220.7 204.6 L220.8 205.3 L220.9 206.1 L221.0 206.9 L221.0 207.7 L221.1 208.5 L221.2 209.3 L221.3 210.1 L221.3 210.9 L221.4 211.7 L221.5 212.5 L221.6 213.3 L221.6 214.1 L221.7 214.9 L221.8 215.7 L221.9 216.5 L222.0 217.3 L222.0 218.1 L222.1 218.9 L222.2 219.7 L222.3 220.5 L222.4 221.3 L222.5 222.1 L222.5 222.9 L222.6 223.7 L222.7 224.5 L222.8 225.3 L222.9 226.1 L223.0 226.8 L223.1 227.6 L223.2 228.4 L223.3 229.2 L223.4 230.0 L223.5 230.8 L223.7 231.6 L223.8 232.4 L223.9 233.2 L224.1 234.0 L224.3 234.7 L224.6 235.5 L225.1 236.0 L225.6 235.4 L225.9 234.6 L226.1 233.9 L226.3 233.1 L226.5 232.3 L226.7 231.5 L226.8 230.7 L227.0 230.0 L227.1 229.2 L227.3 228.4 L227.4 227.6 L227.5 226.8 L227.6 226.0 L227.7 225.2 L227.9 224.4 L228.0 223.6 L228.1 222.8 L228.2 222.0 L228.3 221.3 L228.4 220.5 L228.5 219.7 L228.6 218.9 L228.7 218.1 L228.8 217.3 L228.9 216.5 L229.0 215.7 L229.1 214.9 L229.2 214.1 L229.3 213.3 L229.4 212.5 L229.5 211.7 L229.6 210.9 L229.7 210.1 L229.8 209.3 L229.9 208.5 L230.0 207.8 L230.1 207.0 L230.2 206.2 L230.3 205.4 L230.4 204.6 L230.5 203.8 L230.6 203.0 L230.7 202.2 L230.8 201.4 L230.9 200.6 L231.0 199.8 L231.1 199.0 L231.3 198.2 L231.4 197.4 L231.5 196.6 L231.6 195.9 L231.8 195.1 L231.9 194.3 L232.0 193.5 L232.2 192.7 L232.3 191.9 L232.5 191.1 L232.7 190.4 L232.9 189.6 L233.1 188.8 L233.4 188.1 L233.9 187.5 L234.4 188.1 L234.7 188.8 L234.9 189.6 L235.0 190.4 L235.1 191.2 L235.3 192.0 L235.4 192.8 L235.5 193.6 L235.6 194.4 L235.7 195.1 L235.8 195.9 L235.9 196.7 L236.0 197.5 L236.1 198.3 L236.2 199.1 L236.2 199.9 L236.3 200.7 L236.4 201.5 L236.5 202.3 L236.6 203.1 L236.6 203.9 L236.7 204.7 L236.8 205.5 L236.9 206.3 L236.9 207.1 L237.0 207.9 L237.1 208.7 L237.2 209.5 L237.2 210.3 L237.3 211.1 L237.4 211.9 L237.4 212.7 L237.5 213.5 L237.6 214.3 L237.7 215.1 L237.7 215.9 L237.8 216.7 L237.9 217.5 L238.0 218.3 L238.0 219.0 L238.1 219.8 L238.2 220.6 L238.3 221.4 L238.3 222.2 L238.4 223.0 L238.5 223.8 L238.6 224.6 L238.6 225.4 L238.7 226.2 L238.8 227.0 L238.9 227.8 L239.0 228.6 L239.1 229.4 L239.2 230.2 L239.3 231.0 L239.4 231.8 L239.5 232.6 L239.6 233.4 L239.7 234.2 L239.8 235.0 L239.9 235.7 L240.1 236.5 L240.2 237.3 L240.4 238.1 L240.8 238.8 L241.4 238.8 L241.9 238.1 L242.2 237.4 L242.4 236.6 L242.7 235.8 L242.9 235.1 L243.1 234.3 L243.3 233.5 L243.4 232.7 L243.6 232.0 L243.8 231.2 L243.9 230.4 L244.1 229.6 L244.3 228.8 L244.4 228.0 L244.6 227.3 L244.7 226.5 L244.9 225.7 L245.0 224.9 L245.2 224.1 L245.3 223.3 L245.5 222.5 L245.6 221.7 L245.8 221.0 L245.9 220.2 L246.1 219.4 L246.3 218.6 L246.4 217.8 L246.6 217.0 L246.8 216.3 L247.0 215.5 L247.2 214.7 L247.4 213.9 L247.6 213.2 L247.9 212.4 L248.2 211.7 L248.7 211.1 L249.4 211.3 L249.8 212.0 L250.1 212.7 L250.3 213.5 L250.5 214.3 L250.7 215.0 L250.9 215.8 L251.1 216.6 L251.2 217.4 L251.4 218.2 L251.5 219.0 L251.7 219.8 L251.8 220.5 L251.9 221.3 L252.1 222.1 L252.2 222.9 L252.3 223.7 L252.4 224.5 L252.6 225.3 L252.7 226.1 L252.8 226.9 L252.9 227.7 L253.1 228.4 L253.2 229.2 L253.3 230.0 L253.4 230.8 L253.6 231.6 L253.7 232.4 L253.8 233.2 L254.0 234.0 L254.1 234.8 L254.2 235.6 L254.4 236.3 L254.5 237.1 L254.6 237.9 L254.8 238.7 L255.0 239.5 L255.1 240.3 L255.3 241.1 L255.5 241.8 L255.7 242.6 L255.9 243.4 L256.2 244.1 L256.6 244.8 L257.3 244.9 L257.9 244.3 L258.3 243.6 L258.6 242.9 L258.9 242.1 L259.2 241.4 L259.4 240.6 L259.7 239.8 L259.9 239.1 L260.1 238.3 L260.3 237.5 L260.6 236.8 L260.8 236.0 L261.0 235.2 L261.2 234.5 L261.5 233.7 L261.7 232.9 L262.0 232.2 L262.3 231.4 L262.6 230.7 L262.9 230.0 L263.4 229.3 L264.1 229.0 L264.7 229.4 L265.2 230.1 L265.6 230.8 L265.9 231.5 L266.2 232.3 L266.5 233.0 L266.7 233.8 L267.0 234.6 L267.2 235.3 L267.4 236.1 L267.6 236.9 L267.9 237.6 L268.1 238.4 L268.3 239.2 L268.5 239.9 L268.7 240.7 L269.0 241.5 L269.2 242.2 L269.4 243.0 L269.7 243.8 L269.9 244.5 L270.2 245.3 L270.4 246.0 L270.7 246.8 L271.1 247.5 L271.5 248.2 L272.0 248.8 L272.8 248.9 L273.4 248.4 L273.8 247.8 L274.2 247.1 L274.5 246.4 L274.9 245.6 L275.2 244.9 L275.5 244.2 L275.8 243.4 L276.2 242.7 L276.5 242.0 L277.0 241.3 L277.5 240.7 L278.2 240.5 L278.9 241.0 L279.3 241.7 L279.7 242.3 L280.1 243.1 L280.5 243.8 L280.8 244.5 L281.2 245.2 L281.5 245.9 L281.9 246.6 L282.3 247.3 L282.8 247.9 L283.3 248.6 L283.8 249.2 L284.3 249.8 L284.8 250.4 L285.5 250.9 L286.3 251.0 L287.1 250.8 L287.8 250.5 L288.5 250.1 L289.1 249.6 L289.8 249.2 L290.4 248.7 L291.1 248.2 L291.7 247.8 L292.5 247.4 L293.2 247.1 L294.0 247.0 L294.8 247.2 L295.5 247.6 L296.1 248.1 L296.7 248.6 L297.2 249.2 L297.8 249.8 L298.3 250.3 L298.9 250.9 L299.5 251.5 L300.0 252.1 L300.4 252.7 L300.9 253.4 L301.5 254.0 L302.1 254.4 L302.9 254.5 L303.7 254.4 L304.5 254.2 L305.2 253.9 L306.0 253.6 L306.7 253.3 L307.5 253.0 L308.2 252.8 L309.0 252.6 L309.8 252.5 L310.6 252.6 L311.4 252.7 L312.1 253.0 L312.8 253.4 L313.5 253.8 L314.2 254.2 L314.9 254.6 L315.7 254.9 L316.4 255.2 L317.2 255.4 L318.0 255.5 L318.8 255.6 L319.5 255.7 L320.3 255.7 L321.1 255.8 L321.9 255.8 L322.7 255.8 L323.5 255.9 L324.3 255.9 L325.1 256.0 L325.9 256.1 L326.7 256.2 L327.5 256.4 L328.3 256.6 L329.1 256.8 L329.8 257.0 L330.6 257.1 L331.4 257.3 L332.2 257.5 L333.0 257.7 L333.8 257.8 L334.5 257.9 L335.3 258.0 L336.1 258.1 L336.9 258.2 L337.7 258.3 L338.5 258.3 L339.3 258.4 L340.1 258.5 L340.9 258.5 L341.7 258.6 L342.5 258.6 L343.3 258.7 L344.1 258.7 L344.9 258.8 L345.7 258.8 L346.5 258.9 L347.3 258.9 L348.1 258.9 L348.9 259.0 L349.7 259.0 L350.5 259.0 L351.3 259.0 L352.1 259.1 L352.9 259.1 L353.7 259.1 L354.5 259.2 L355.3 259.2 L356.1 259.2 L356.9 259.2 L357.7 259.3 L358.5 259.3 L359.3 259.3 L360.1 259.3 L360.9 259.4 L361.7 259.4 L362.5 259.4 L363.3 259.4 L364.1 259.4 L364.9 259.5 L365.7 259.5 L366.5 259.5 L367.3 259.5 L368.1 259.5 L368.9 259.5 L369.7 259.5 L370.5 259.5 L371.3 259.5 L372.1 259.5 L372.9 259.5 L373.7 259.5 L374.5 259.5 L375.3 259.5 L376.1 259.5 L376.9 259.5 L377.7 259.5 L378.5 259.5 L379.3 259.5 L380.1 259.5 L380.9 259.5 L381.7 259.5 L382.5 259.5 L383.3 259.5 L384.1 259.5 L384.9 259.5 L385.7 259.5 L386.5 259.5 L387.3 259.5 L387.8 259.0 L388.0 258.2 L388.2 257.4 L388.4 256.6 L388.5 255.9 L388.7 255.1 L388.9 254.3 L389.2 253.6 L389.5 252.8 L389.9 252.1 L390.4 251.5 L391.0 251.0" fill="none" stroke="#1ce61c" stroke-width="3" stroke-linejoin="round" stroke-linecap="round"/>
<path d="M46.1 20.2 L46.2 21.0 L46.2 21.8 L46.2 22.6 L46.2 23.4 L46.2 24.2 L46.3 25.0 L46.3 25.8 L46.3 26.6 L46.3 27.4 L46.3 28.2 L46.4 29.0 L46.4 29.8 L46.4 30.6 L46.4 31.4 L46.4 32.2 L46.5 33.0 L46.5 33.8 L46.5 34.6 L46.5 35.4 L46.5 36.2 L46.5 37.0 L46.6 37.8 L46.6 38.6 L46.6 39.4 L46.6 40.2 L46.6 41.0 L46.7 41.8 L46.7 42.6 L46.7 43.4 L46.7 44.2 L46.7 45.0 L46.8 45.8 L46.8 46.6 L46.8 47.4 L46.8 48.2 L46.8 49.0 L46.9 49.8 L46.9 50.6 L46.9 51.4 L46.9 52.2 L46.9 53.0 L47.0 53.8 L47.0 54.6 L47.0 55.4 L47.0 56.2 L47.1 57.0 L47.1 57.8 L47.1 58.6 L47.1 59.4 L47.1 60.2 L47.2 61.0 L47.2 61.8 L47.2 62.6 L47.2 63.4 L47.2 64.2 L47.3 65.0 L47.3 65.8 L47.3 66.6 L47.3 67.4 L47.4 68.2 L47.4 69.0 L47.4 69.8 L47.4 70.6 L47.5 71.4 L47.5 72.2 L47.5 73.0 L47.5 73.8 L47.5 74.6 L47.6 75.4 L47.6 76.2 L47.6 77.0 L47.6 77.8 L47.7 78.6 L47.7 79.4 L47.7 80.2 L47.7 81.0 L47.8 81.8 L47.8 82.6 L47.8 83.4 L47.8 84.2 L47.8 85.0 L47.9 85.8 L47.9 86.6 L47.9 87.4 L47.9 88.2 L48.0 89.0 L48.0 89.8 L48.0 90.6 L48.0 91.4 L48.1 92.2 L48.1 93.0 L48.1 93.8 L48.1 94.6 L48.2 95.4 L48.2 96.2 L48.2 97.0 L48.2 97.8 L48.3 98.6 L48.3 99.4 L48.3 100.2 L48.3 101.0 L48.4 101.9 L48.4 102.7 L48.4 103.5 L48.4 104.3 L48.4 105.1 L48.5 105.9 L48.5 106.7 L48.5 107.5 L48.5 108.3 L48.6 109.1 L48.6 109.9 L48.6 110.7 L48.6 111.5 L48.7 112.3 L48.7 113.1 L48.7 113.9 L48.7 114.7 L48.8 115.5 L48.8 116.3 L48.8 117.1 L48.8 117.9 L48.9 118.7 L48.9 119.5 L48.9 120.3 L48.9 121.1 L48.9 121.9 L49.0 122.7 L49.0 123.5 L49.0 124.3 L49.0 125.1 L49.1 125.9 L49.1 126.7 L49.1 127.5 L49.1 128.3 L49.2 129.1 L49.2 129.9 L49.2 130.7 L49.2 131.5 L49.2 132.3 L49.3 133.1 L49.3 133.9 L49.3 134.7 L49.3 135.5 L49.3 136.3 L49.4 137.1 L49.4 137.9 L49.4 138.7 L49.4 139.5 L49.5 140.3 L49.5 141.1 L49.5 141.9 L49.5 142.7 L49.5 143.5 L49.6 144.3 L49.6 145.1 L49.6 145.9 L49.6 146.7 L49.6 147.5 L49.7 148.3 L49.7 149.1 L49.7 149.9 L49.7 150.7 L49.8 151.5 L49.8 152.3 L49.8 153.1 L49.8 153.9 L49.8 154.7 L49.9 155.5 L49.9 156.3 L49.9 157.1 L49.9 157.9 L49.9 158.7 L50.0 159.5 L50.0 160.3 L50.0 161.1 L50.0 161.9 L50.1 162.7 L50.1 163.5 L50.1 164.3 L50.1 165.1 L50.1 165.9 L50.2 166.7 L50.2 167.5 L50.2 168.3 L50.2 169.1 L50.2 169.9 L50.3 170.7 L50.3 171.5 L50.3 172.3 L50.3 173.1 L50.4 173.9 L50.4 174.7 L50.4 175.5 L50.4 176.3 L50.4 177.1 L50.5 177.9 L50.5 178.7 L50.5 179.5 L50.5 180.3 L50.5 181.1 L50.6 181.9 L50.6 182.7 L50.6 183.5 L50.6 184.3 L50.7 185.1 L50.7 185.9 L50.7 186.7 L50.7 187.5 L50.7 188.3 L50.8 189.1 L50.8 189.9 L50.8 190.7 L50.8 191.5 L50.8 192.3 L50.9 193.1 L50.9 193.9 L50.9 194.7 L50.9 195.5 L50.9 196.3 L51.0 197.1 L51.0 197.9 L51.0 198.7 L51.0 199.5 L51.0 200.3 L51.1 201.1 L51.1 201.9 L51.1 202.7 L51.1 203.5 L51.1 204.3 L51.2 205.1 L51.2 205.9 L51.2 206.7 L51.2 207.5 L51.2 208.3 L51.3 209.1 L51.3 209.9 L51.3 210.7 L51.3 211.5 L51.3 212.3 L51.4 213.1 L51.4 213.9 L51.4 214.7 L51.4 215.5 L51.4 216.3 L51.4 217.1 L51.5 217.9 L51.5 218.7 L51.5 219.5 L51.5 220.3 L51.5 221.1 L51.6 221.9 L51.6 222.7 L51.6 223.5 L51.6 224.3 L51.6 225.1 L51.6 225.9 L51.7 226.7 L51.7 227.5 L51.7 228.3 L51.7 229.1 L51.7 229.9 L51.7 230.7 L51.8 231.5 L51.8 232.3 L51.8 233.1 L51.8 233.9 L51.8 234.7 L51.8 235.5 L51.9 236.3 L51.9 237.1 L51.9 237.9 L51.9 238.7 L51.9 239.5 L51.9 240.3 L52.0 241.1 L52.0 241.9 L52.0 242.7 L52.0 243.5 L52.0 244.3 L52.0 245.1 L52.0 245.9 L52.1 246.7 L52.1 247.5 L52.1 248.3 L52.1 249.1 L52.1 249.9 L52.1 250.7 L52.2 251.5 L52.2 252.3 L52.2 253.2 L52.2 254.0 L52.2 254.8 L52.2 255.6 L52.2 256.4 L52.3 257.2 L52.3 258.0 L52.3 258.8 L52.3 259.6 L52.3 260.4 L52.3 261.2 L52.3 262.0 L52.4 262.8 L52.4 263.6 L52.4 264.4 L52.4 265.2 L52.4 266.0 L52.4 266.8 L52.4 267.6 L52.5 268.4 L52.5 269.2 L52.5 270.0 L52.5 270.8 L52.5 271.6 L52.5 272.4 L52.5 273.2 L52.5 274.0 L52.6 274.8 L52.6 275.6 L52.6 276.4 L52.6 277.2 L52.6 278.0 L52.6 278.8 L52.6 279.6 L52.6 280.4 L52.6 281.2 L52.7 282.0 L52.7 282.8 L52.7 283.6 L52.7 284.4 L52.7 285.2 L52.7 286.0 L52.7 286.8 L52.7 287.6 L52.7 288.4 L52.8 289.2 L52.8 290.0 L52.8 290.8 L52.8 291.6 L52.8 292.4 L52.8 293.2 L52.8 294.0 L52.8 294.8 L52.8 295.6 L52.8 296.4 L52.8 297.2 L52.9 298.0 L52.9 298.8 L52.9 299.6 L52.9 300.4 L52.9 301.2 L52.9 302.0 L52.9 302.8 L52.9 303.6 L52.9 304.4 L52.9 305.2 L53.0 306.0 L53.0 306.8 L53.0 307.6 L53.0 308.4 L53.0 309.2 L53.0 310.0" fill="none" stroke="#1414b8" stroke-width="1.7" stroke-linejoin="round" stroke-linecap="round"/>
<path d="M53.0 310.0 L53.0 310.8 L53.0 311.6 L53.1 312.4 L53.1 313.2 L53.1 314.0 L53.1 314.8 L53.1 315.6 L53.1 316.4 L53.2 317.2 L53.2 318.0 L53.2 318.8 L53.2 319.6 L53.2 320.4 L53.2 321.2 L53.3 322.0 L53.3 322.8 L53.3 323.6 L53.3 324.4 L53.3 325.2 L53.4 326.0 L53.4 326.8 L53.4 327.6 L53.4 328.4 L53.4 329.2 L53.5 330.0 L53.5 330.8 L53.5 331.6 L53.5 332.4 L53.5 333.2 L53.6 334.0 L53.6 334.8 L53.6 335.6 L53.6 336.4 L53.6 337.2 L53.7 338.0 L53.7 338.8 L53.7 339.6 L53.7 340.4 L53.8 341.2 L53.8 342.0 L53.8 342.8 L53.8 343.6 L53.9 344.4 L53.9 345.2 L53.9 346.0 L54.0 346.8 L54.0 347.6 L54.0 348.4 L54.1 349.2 L54.1 350.0 L54.2 350.8 L54.3 351.6 L54.5 352.4 L54.6 353.2 L54.8 353.9 L55.0 354.7 L55.3 355.5 L55.8 356.0 L56.4 355.5 L57.0 355.0 L57.2 355.8 L57.3 356.6 L57.4 357.4 L57.5 358.2 L57.6 359.0 L57.7 359.7 L57.7 360.5 L57.8 361.3 L57.9 362.1 L58.1 362.9 L58.3 363.7 L58.5 364.5 L58.8 365.2 L59.0 366.0 L59.3 366.7 L59.6 367.5 L59.9 368.2 L60.2 369.0 L60.4 369.7 L60.6 370.5 L60.8 371.3 L61.0 372.1 L61.1 372.8 L61.3 373.6 L61.4 374.4 L61.5 375.2 L61.7 376.0 L61.8 376.8 L62.0 377.6 L62.1 378.4 L62.2 379.1 L62.4 379.9 L62.6 380.7 L62.7 381.5 L62.9 382.3 L63.2 383.0 L63.4 383.8 L63.6 384.6 L63.8 385.3 L64.1 386.1 L64.4 386.8 L64.9 387.5 L65.5 387.1 L66.0 386.4 L66.6 386.0 L67.0 386.7 L67.3 387.4 L67.6 388.2 L67.8 388.9 L68.1 389.7 L68.4 390.4 L68.8 391.1 L69.5 391.5 L70.2 391.9 L71.0 392.0 L71.6 391.6 L72.1 390.9 L72.4 390.2 L72.8 389.4 L73.1 388.7 L73.5 388.0 L73.9 387.3 L74.6 387.0 L75.2 387.5 L75.7 388.2 L76.1 388.9 L76.5 389.6 L77.0 390.2 L77.7 390.5 L78.4 390.3 L79.1 389.9 L79.4 389.1 L79.6 388.3 L79.7 387.6 L79.8 386.8 L79.9 386.0 L80.1 385.2 L80.2 384.4 L80.3 383.6 L80.4 382.8 L80.5 382.0 L80.6 381.2 L80.7 380.4 L80.8 379.6 L80.9 378.8 L81.0 378.0 L81.1 377.2 L81.1 376.4 L81.2 375.7 L81.3 374.9 L81.4 374.1 L81.4 373.3 L81.5 372.5 L81.6 371.7 L81.6 370.9 L81.7 370.1 L81.8 369.3 L81.8 368.5 L81.9 367.7 L82.0 366.9 L82.1 366.1 L82.1 365.3 L82.2 364.5 L82.3 363.7 L82.4 362.9 L82.6 362.1 L82.7 361.3 L82.9 360.5 L83.0 359.8 L83.2 359.0 L83.4 358.2 L83.8 357.5 L84.4 357.1 L85.2 356.8 L86.0 356.6 L86.7 356.4 L87.4 356.0 L87.8 355.4 L88.0 354.6 L88.2 353.8 L88.4 353.0 L88.6 352.3 L88.7 351.5 L88.9 350.7 L89.2 349.9 L89.7 349.6 L90.2 350.3 L90.5 351.0 L90.8 351.7 L91.3 352.4 L91.9 352.2 L92.2 351.5 L92.5 350.7 L92.7 349.9 L92.9 349.2 L93.1 348.4 L93.3 347.6 L93.5 346.8 L93.7 346.1 L93.8 345.3 L94.0 344.5 L94.2 343.7 L94.4 342.9 L94.6 342.2 L94.9 341.4 L95.2 340.7 L95.6 340.0 L96.3 340.4 L96.6 341.1 L96.9 341.9 L97.2 342.6 L97.4 343.4 L97.6 344.1 L97.9 344.9 L98.1 345.7 L98.3 346.5 L98.5 347.2 L98.8 348.0 L99.1 348.7 L99.4 349.5 L100.0 350.0 L100.4 349.4 L100.7 348.7 L100.8 347.9 L101.0 347.1 L101.1 346.3 L101.3 345.5 L101.4 344.7 L101.5 343.9 L101.6 343.1 L101.7 342.3 L101.8 341.6 L102.0 340.8 L102.1 340.0 L102.2 339.2 L102.3 338.4 L102.4 337.6 L102.5 336.8 L102.6 336.0 L102.7 335.2 L102.8 334.4 L102.9 333.6 L103.0 332.8 L103.1 332.0 L103.3 331.2 L103.4 330.5 L103.5 329.7 L103.7 328.9 L103.9 328.1 L104.2 327.4 L104.7 327.2 L105.0 327.9 L105.2 328.7 L105.4 329.5 L105.5 330.3 L105.7 331.0 L105.8 331.8 L105.9 332.6 L106.0 333.4 L106.1 334.2 L106.2 335.0 L106.3 335.8 L106.4 336.6 L106.5 337.4 L106.6 338.2 L106.8 339.0 L106.9 339.8 L107.0 340.6 L107.1 341.4 L107.2 342.1 L107.3 342.9 L107.4 343.7 L107.5 344.5 L107.6 345.3 L107.8 346.1 L107.9 346.9 L108.1 347.7 L108.3 348.4 L108.8 349.0 L109.2 348.3 L109.4 347.5 L109.6 346.8 L109.8 346.0 L109.9 345.2 L110.0 344.4 L110.2 343.6 L110.3 342.8 L110.4 342.0 L110.5 341.2 L110.6 340.4 L110.7 339.6 L110.8 338.8 L110.9 338.0 L111.0 337.3 L111.1 336.5 L111.2 335.7 L111.3 334.9 L111.4 334.1 L111.5 333.3 L111.6 332.5 L111.6 331.7 L111.7 330.9 L111.8 330.1 L111.9 329.3 L112.0 328.5 L112.2 327.7 L112.3 326.9 L112.4 326.1 L112.5 325.3 L112.6 324.6 L112.8 323.8 L112.9 323.0 L113.1 322.2 L113.4 321.4 L113.9 321.1 L114.3 321.8 L114.5 322.6 L114.7 323.3 L114.8 324.1 L115.0 324.9 L115.1 325.7 L115.2 326.5 L115.3 327.3 L115.4 328.1 L115.6 328.9 L115.7 329.7 L115.8 330.5 L115.9 331.3 L116.0 332.1 L116.1 332.8 L116.2 333.6 L116.3 334.4 L116.4 335.2 L116.5 336.0 L116.6 336.8 L116.7 337.6 L116.8 338.4 L116.9 339.2 L117.0 340.0 L117.1 340.8 L117.2 341.6 L117.3 342.4 L117.5 343.2 L117.6 343.9 L117.7 344.7 L117.9 345.5 L118.1 346.3 L118.4 347.0 L118.9 347.4 L119.1 346.6 L119.3 345.9 L119.4 345.1 L119.5 344.3 L119.6 343.5 L119.7 342.7 L119.8 341.9 L119.9 341.1 L120.0 340.3 L120.1 339.5 L120.1 338.7 L120.2 337.9 L120.3 337.1 L120.4 336.3 L120.4 335.5 L120.5 334.7 L120.6 333.9 L120.6 333.1 L120.7 332.3 L120.8 331.5 L120.8 330.7 L120.9 329.9 L120.9 329.1 L121.0 328.3 L121.1 327.5 L121.1 326.7 L121.2 325.9 L121.3 325.1 L121.3 324.3 L121.4 323.6 L121.5 322.8 L121.5 322.0 L121.6 321.2 L121.7 320.4 L121.8 319.6 L121.9 318.8 L121.9 318.0 L122.0 317.2 L122.1 316.4 L122.2 315.6 L122.3 314.8 L122.5 314.0 L122.6 313.2 L123.0 312.5 L123.4 313.1 L123.6 313.9 L123.8 314.7 L123.9 315.5 L124.0 316.2 L124.2 317.0 L124.3 317.8 L124.4 318.6 L124.5 319.4 L124.6 320.2 L124.6 321.0 L124.7 321.8 L124.8 322.6 L124.9 323.4 L125.0 324.2 L125.1 325.0 L125.2 325.8 L125.2 326.6 L125.3 327.4 L125.4 328.2 L125.5 329.0 L125.6 329.8 L125.6 330.6 L125.7 331.4 L125.8 332.1 L125.9 332.9 L126.0 333.7 L126.0 334.5 L126.1 335.3 L126.2 336.1 L126.3 336.9 L126.4 337.7 L126.5 338.5 L126.6 339.3 L126.7 340.1 L126.8 340.9 L126.9 341.7 L127.0 342.5 L127.1 343.3 L127.3 344.1 L127.4 344.8 L127.7 345.6 L128.2 345.8 L128.4 345.0 L128.6 344.3 L128.7 343.5 L128.8 342.7 L128.9 341.9 L129.0 341.1 L129.0 340.3 L129.1 339.5 L129.2 338.7 L129.3 337.9 L129.3 337.1 L129.4 336.3 L129.5 335.5 L129.5 334.7 L129.6 333.9 L129.7 333.1 L129.7 332.3 L129.8 331.5 L129.8 330.7 L129.9 329.9 L130.0 329.1 L130.0 328.3 L130.1 327.5 L130.1 326.7 L130.2 325.9 L130.2 325.1 L130.3 324.3 L130.4 323.5 L130.4 322.7 L130.5 321.9 L130.5 321.1 L130.6 320.3 L130.6 319.5 L130.7 318.7 L130.8 317.9 L130.8 317.2 L130.9 316.4 L130.9 315.6 L131.0 314.8 L131.1 314.0 L131.1 313.2 L131.2 312.4 L131.3 311.6 L131.4 310.8 L131.4 310.0 L131.5 309.2 L131.6 308.4 L131.7 307.6 L131.8 306.8 L131.9 306.0 L132.0 305.2 L132.2 304.4 L132.7 304.2 L132.9 304.9 L133.1 305.7 L133.2 306.5 L133.4 307.3 L133.5 308.1 L133.6 308.9 L133.7 309.7 L133.7 310.5 L133.8 311.3 L133.9 312.1 L134.0 312.9 L134.1 313.7 L134.1 314.5 L134.2 315.3 L134.3 316.1 L134.3 316.8 L134.4 317.6 L134.5 318.4 L134.5 319.2 L134.6 320.0 L134.7 320.8 L134.7 321.6 L134.8 322.4 L134.9 323.2 L134.9 324.0 L135.0 324.8 L135.0 325.6 L135.1 326.4 L135.2 327.2 L135.2 328.0 L135.3 328.8 L135.4 329.6 L135.4 330.4 L135.5 331.2 L135.6 332.0 L135.6 332.8 L135.7 333.6 L135.8 334.4 L135.8 335.2 L135.9 336.0 L136.0 336.8 L136.1 337.6 L136.1 338.4 L136.2 339.2 L136.3 340.0 L136.4 340.8 L136.5 341.6 L136.6 342.4 L136.7 343.1 L136.8 343.9 L137.0 344.7 L137.2 345.5 L137.6 345.9 L137.9 345.1 L138.0 344.3 L138.1 343.5 L138.2 342.8 L138.3 342.0 L138.4 341.2 L138.5 340.4 L138.6 339.6 L138.6 338.8 L138.7 338.0 L138.8 337.2 L138.8 336.4 L138.9 335.6 L138.9 334.8 L139.0 334.0 L139.1 333.2 L139.1 332.4 L139.2 331.6 L139.2 330.8 L139.3 330.0 L139.3 329.2 L139.4 328.4 L139.4 327.6 L139.5 326.8 L139.6 326.0 L139.6 325.2 L139.7 324.4 L139.7 323.6 L139.8 322.8 L139.8 322.0 L139.9 321.2 L139.9 320.4 L140.0 319.6 L140.0 318.8 L140.1 318.0 L140.1 317.2 L140.2 316.4 L140.2 315.6 L140.3 314.8 L140.3 314.0 L140.4 313.2 L140.5 312.4 L140.5 311.6 L140.6 310.8 L140.6 310.0 L140.7 309.2 L140.8 308.4 L140.8 307.6 L140.9 306.8 L141.0 306.0 L141.1 305.2 L141.1 304.4 L141.2 303.7 L141.3 302.9 L141.4 302.1 L141.6 301.3 L141.7 300.5 L142.2 300.1 L142.4 300.9 L142.5 301.7 L142.7 302.5 L142.8 303.3 L142.9 304.1 L143.0 304.9 L143.0 305.7 L143.1 306.5 L143.2 307.2 L143.3 308.0 L143.3 308.8 L143.4 309.6 L143.5 310.4 L143.5 311.2 L143.6 312.0 L143.7 312.8 L143.7 313.6 L143.8 314.4 L143.8 315.2 L143.9 316.0 L143.9 316.8 L144.0 317.6 L144.1 318.4 L144.1 319.2 L144.2 320.0 L144.2 320.8 L144.3 321.6 L144.3 322.4 L144.4 323.2 L144.4 324.0 L144.5 324.8 L144.6 325.6 L144.6 326.4 L144.7 327.2 L144.7 328.0 L144.8 328.8 L144.8 329.6 L144.9 330.4 L145.0 331.2 L145.0 332.0 L145.1 332.8 L145.1 333.6 L145.2 334.4 L145.3 335.2 L145.3 336.0 L145.4 336.8 L145.5 337.6 L145.5 338.4 L145.6 339.2 L145.7 340.0 L145.8 340.8 L145.8 341.6 L145.9 342.4 L146.0 343.1 L146.1 343.9 L146.3 344.7 L146.5 345.5 L146.9 345.9 L147.1 345.1 L147.2 344.3 L147.3 343.5 L147.4 342.7 L147.5 341.9 L147.5 341.1 L147.6 340.3 L147.7 339.5 L147.7 338.7 L147.8 337.9 L147.8 337.1 L147.9 336.3 L148.0 335.5 L148.0 334.7 L148.1 333.9 L148.1 333.1 L148.2 332.3 L148.2 331.5 L148.2 330.7 L148.3 329.9 L148.3 329.1 L148.4 328.3 L148.4 327.5 L148.5 326.7 L148.5 325.9 L148.6 325.1 L148.6 324.3 L148.6 323.5 L148.7 322.7 L148.7 321.9 L148.8 321.1 L148.8 320.3 L148.9 319.5 L148.9 318.7 L148.9 317.9 L149.0 317.1 L149.0 316.3 L149.1 315.5 L149.1 314.7 L149.2 313.9 L149.2 313.1 L149.2 312.3 L149.3 311.5 L149.3 310.7 L149.4 309.9 L149.4 309.1 L149.5 308.4 L149.5 307.6 L149.6 306.8 L149.6 306.0 L149.7 305.2 L149.7 304.4 L149.8 303.6 L149.8 302.8 L149.9 302.0 L149.9 301.2 L150.0 300.4 L150.0 299.6 L150.1 298.8 L150.2 298.0 L150.2 297.2 L150.3 296.4 L150.4 295.6 L150.5 294.8 L150.6 294.0 L150.7 293.2 L151.0 292.5 L151.4 293.2 L151.5 294.0 L151.6 294.8 L151.8 295.6 L151.9 296.4 L151.9 297.2 L152.0 298.0 L152.1 298.8 L152.2 299.6 L152.3 300.3 L152.3 301.1 L152.4 301.9 L152.5 302.7 L152.5 303.5 L152.6 304.3 L152.6 305.1 L152.7 305.9 L152.8 306.7 L152.8 307.5 L152.9 308.3 L152.9 309.1 L153.0 309.9 L153.0 310.7 L153.1 311.5 L153.2 312.3 L153.2 313.1 L153.3 313.9 L153.3 314.7 L153.4 315.5 L153.4 316.3 L153.5 317.1 L153.5 317.9 L153.6 318.7 L153.6 319.5 L153.7 320.3 L153.7 321.1 L153.8 321.9 L153.8 322.7 L153.9 323.5 L154.0 324.3 L154.0 325.1 L154.1 325.9 L154.1 326.7 L154.2 327.5 L154.2 328.3 L154.3 329.1 L154.4 329.9 L154.4 330.7 L154.5 331.5 L154.5 332.3 L154.6 333.1 L154.7 333.9 L154.7 334.7 L154.8 335.5 L154.9 336.3 L155.0 337.1 L155.1 337.9 L155.1 338.7 L155.2 339.4 L155.4 340.2 L155.5 341.0 L155.7 341.8 L156.0 342.5 L156.3 341.8 L156.4 341.0 L156.5 340.2 L156.6 339.4 L156.7 338.6 L156.8 337.8 L156.9 337.0 L156.9 336.2 L157.0 335.4 L157.0 334.6 L157.1 333.8 L157.2 333.0 L157.2 332.2 L157.3 331.4 L157.3 330.6 L157.4 329.8 L157.4 329.0 L157.5 328.2 L157.5 327.4 L157.6 326.6 L157.6 325.8 L157.6 325.0 L157.7 324.2 L157.7 323.4 L157.8 322.6 L157.8 321.8 L157.9 321.0 L157.9 320.2 L158.0 319.4 L158.0 318.6 L158.0 317.8 L158.1 317.0 L158.1 316.2 L158.2 315.4 L158.2 314.6 L158.2 313.8 L158.3 313.1 L158.3 312.3 L158.4 311.5 L158.4 310.7 L158.5 309.9 L158.5 309.1 L158.5 308.3 L158.6 307.5 L158.6 306.7 L158.7 305.9 L158.7 305.1 L158.8 304.3 L158.8 303.5 L158.8 302.7 L158.9 301.9 L158.9 301.1 L159.0 300.3 L159.0 299.5 L159.1 298.7 L159.1 297.9 L159.2 297.1 L159.2 296.3 L159.3 295.5 L159.3 294.7 L159.4 293.9 L159.4 293.1 L159.5 292.3 L159.6 291.5 L159.6 290.7 L159.7 289.9 L159.8 289.1 L159.8 288.3 L159.9 287.5 L160.0 286.7 L160.2 285.9 L160.4 285.1 L160.8 285.5 L160.9 286.3 L161.0 287.1 L161.1 287.9 L161.2 288.7 L161.3 289.5 L161.3 290.3 L161.4 291.1 L161.5 291.9 L161.5 292.7 L161.6 293.5 L161.7 294.3 L161.7 295.1 L161.8 295.9 L161.8 296.7 L161.9 297.5 L161.9 298.3 L162.0 299.1 L162.0 299.9 L162.1 300.7 L162.1 301.5 L162.1 302.3 L162.2 303.1 L162.2 303.9 L162.3 304.7 L162.3 305.5 L162.4 306.3 L162.4 307.1 L162.5 307.9 L162.5 308.7 L162.5 309.5 L162.6 310.3 L162.6 311.1 L162.7 311.9 L162.7 312.7 L162.7 313.5 L162.8 314.2 L162.8 315.0 L162.9 315.8 L162.9 316.6 L163.0 317.4 L163.0 318.2 L163.0 319.0 L163.1 319.8 L163.1 320.6 L163.2 321.4 L163.2 322.2 L163.3 323.0 L163.3 323.8 L163.4 324.6 L163.4 325.4 L163.4 326.2 L163.5 327.0 L163.5 327.8 L163.6 328.6 L163.6 329.4 L163.7 330.2 L163.7 331.0 L163.8 331.8 L163.8 332.6 L163.9 333.4 L164.0 334.2 L164.0 335.0 L164.1 335.8 L164.1 336.6 L164.2 337.4 L164.3 338.2 L164.4 339.0 L164.5 339.8 L164.6 340.6 L164.7 341.4 L165.1 341.9 L165.3 341.2 L165.4 340.4 L165.5 339.6 L165.6 338.8 L165.7 338.0 L165.8 337.2 L165.8 336.4 L165.9 335.6 L166.0 334.8 L166.0 334.0 L166.1 333.2 L166.1 332.4 L166.2 331.6 L166.2 330.8 L166.3 330.0 L166.3 329.2 L166.4 328.4 L166.4 327.6 L166.5 326.8 L166.5 326.0 L166.5 325.2 L166.6 324.4 L166.6 323.6 L166.7 322.8 L166.7 322.0 L166.8 321.2 L166.8 320.4 L166.8 319.6 L166.9 318.8 L166.9 318.0 L167.0 317.2 L167.0 316.4 L167.0 315.6 L167.1 314.8 L167.1 314.0 L167.2 313.2 L167.2 312.4 L167.2 311.6 L167.3 310.8 L167.3 310.0 L167.3 309.2 L167.4 308.4 L167.4 307.6 L167.5 306.8 L167.5 306.0 L167.5 305.2 L167.6 304.4 L167.6 303.6 L167.7 302.8 L167.7 302.0 L167.7 301.2 L167.8 300.5 L167.8 299.7 L167.9 298.9 L167.9 298.1 L168.0 297.3 L168.0 296.5 L168.0 295.7 L168.1 294.9 L168.1 294.1 L168.2 293.3 L168.2 292.5 L168.3 291.7 L168.3 290.9 L168.4 290.1 L168.4 289.3 L168.5 288.5 L168.5 287.7 L168.6 286.9 L168.7 286.1 L168.7 285.3 L168.8 284.5 L168.9 283.7 L169.0 282.9 L169.1 282.1 L169.2 281.3 L169.4 280.5 L169.8 281.1 L169.9 281.9 L170.0 282.7 L170.1 283.5 L170.2 284.3 L170.3 285.1 L170.3 285.9 L170.4 286.7 L170.4 287.5 L170.5 288.3 L170.6 289.1 L170.6 289.9 L170.7 290.7 L170.7 291.5 L170.8 292.3 L170.8 293.1 L170.9 293.9 L170.9 294.7 L170.9 295.5 L171.0 296.3 L171.0 297.1 L171.1 297.9 L171.1 298.7 L171.2 299.5 L171.2 300.3 L171.2 301.1 L171.3 301.9 L171.3 302.7 L171.4 303.5 L171.4 304.3 L171.4 305.1 L171.5 305.9 L171.5 306.7 L171.6 307.5 L171.6 308.3 L171.6 309.1 L171.7 309.9 L171.7 310.7 L171.8 311.5 L171.8 312.3 L171.8 313.1 L171.9 313.9 L171.9 314.7 L172.0 315.5 L172.0 316.3 L172.0 317.1 L172.1 317.9 L172.1 318.7 L172.2 319.5 L172.2 320.3 L172.2 321.1 L172.3 321.9 L172.3 322.7 L172.4 323.5 L172.4 324.3 L172.4 325.1 L172.5 325.9 L172.5 326.7 L172.6 327.5 L172.6 328.3 L172.7 329.1 L172.7 329.9 L172.8 330.7 L172.8 331.5 L172.9 332.3 L172.9 333.1 L173.0 333.9 L173.0 334.7 L173.1 335.4 L173.2 336.2 L173.2 337.0 L173.3 337.8 L173.4 338.6 L173.4 339.4 L173.5 340.2 L173.7 341.0 L173.8 341.8 L174.2 341.5 L174.4 340.8 L174.5 340.0 L174.6 339.2 L174.7 338.4 L174.8 337.6 L174.8 336.8 L174.9 336.0 L175.0 335.2 L175.0 334.4 L175.1 333.6 L175.1 332.8 L175.2 332.0 L175.3 331.2 L175.3 330.4 L175.4 329.6 L175.4 328.8 L175.5 328.0 L175.5 327.2 L175.5 326.4 L175.6 325.6 L175.6 324.8 L175.7 324.0 L175.7 323.2 L175.8 322.4 L175.8 321.6 L175.9 320.8 L175.9 320.0 L175.9 319.2 L176.0 318.4 L176.0 317.6 L176.1 316.8 L176.1 316.0 L176.1 315.2 L176.2 314.4 L176.2 313.6 L176.3 312.8 L176.3 312.0 L176.4 311.2 L176.4 310.4 L176.4 309.6 L176.5 308.8 L176.5 308.0 L176.6 307.2 L176.6 306.4 L176.6 305.6 L176.7 304.8 L176.7 304.0 L176.8 303.2 L176.8 302.4 L176.8 301.6 L176.9 300.8 L176.9 300.0 L177.0 299.2 L177.0 298.4 L177.1 297.6 L177.1 296.8 L177.1 296.0 L177.2 295.2 L177.2 294.4 L177.3 293.6 L177.3 292.8 L177.4 292.0 L177.4 291.2 L177.5 290.4 L177.5 289.6 L177.6 288.8 L177.6 288.0 L177.7 287.2 L177.8 286.4 L177.8 285.6 L177.9 284.9 L178.0 284.1 L178.0 283.3 L178.1 282.5 L178.2 281.7 L178.3 280.9 L178.5 280.1 L178.8 279.6 L179.0 280.4 L179.2 281.1 L179.3 281.9 L179.3 282.7 L179.4 283.5 L179.5 284.3 L179.5 285.1 L179.6 285.9 L179.7 286.7 L179.7 287.5 L179.8 288.3 L179.8 289.1 L179.9 289.9 L179.9 290.7 L180.0 291.5 L180.0 292.3 L180.0 293.1 L180.1 293.9 L180.1 294.7 L180.2 295.5 L180.2 296.3 L180.3 297.1 L180.3 297.9 L180.3 298.7 L180.4 299.5 L180.4 300.3 L180.4 301.1 L180.5 301.9 L180.5 302.7 L180.6 303.5 L180.6 304.3 L180.6 305.1 L180.7 305.9 L180.7 306.7 L180.7 307.5 L180.8 308.3 L180.8 309.1 L180.9 309.9 L180.9 310.7 L180.9 311.5 L181.0 312.3 L181.0 313.1 L181.0 313.9 L181.1 314.7 L181.1 315.5 L181.2 316.3 L181.2 317.1 L181.2 317.9 L181.3 318.7 L181.3 319.5 L181.3 320.3 L181.4 321.1 L181.4 321.9 L181.5 322.7 L181.5 323.5 L181.5 324.3 L181.6 325.1 L181.6 325.9 L181.7 326.7 L181.7 327.5 L181.8 328.3 L181.8 329.1 L181.8 329.9 L181.9 330.7 L181.9 331.5 L182.0 332.3 L182.0 333.1 L182.1 333.9 L182.2 334.7 L182.2 335.5 L182.3 336.3 L182.3 337.1 L182.4 337.9 L182.5 338.7 L182.6 339.5 L182.7 340.3 L183.0 341.0 L183.3 340.3 L183.5 339.5 L183.6 338.7 L183.7 337.9 L183.8 337.1 L183.8 336.3 L183.9 335.5 L184.0 334.8 L184.0 334.0 L184.1 333.2 L184.2 332.4 L184.2 331.6 L184.3 330.8 L184.3 330.0 L184.4 329.2 L184.5 328.4 L184.5 327.6 L184.6 326.8 L184.6 326.0 L184.7 325.2 L184.7 324.4 L184.7 323.6 L184.8 322.8 L184.8 322.0 L184.9 321.2 L184.9 320.4 L185.0 319.6 L185.0 318.8 L185.1 318.0 L185.1 317.2 L185.2 316.4 L185.2 315.6 L185.2 314.8 L185.3 314.0 L185.3 313.2 L185.4 312.4 L185.4 311.6 L185.5 310.8 L185.5 310.0 L185.5 309.2 L185.6 308.4 L185.6 307.6 L185.7 306.8 L185.7 306.0 L185.8 305.2 L185.8 304.4 L185.8 303.6 L185.9 302.8 L185.9 302.0 L186.0 301.2 L186.0 300.4 L186.1 299.6 L186.1 298.8 L186.2 298.0 L186.2 297.2 L186.3 296.4 L186.3 295.6 L186.3 294.8 L186.4 294.0 L186.4 293.2 L186.5 292.4 L186.6 291.6 L186.6 290.8 L186.7 290.0 L186.7 289.2 L186.8 288.4 L186.8 287.6 L186.9 286.8 L187.0 286.0 L187.0 285.2 L187.1 284.4 L187.2 283.6 L187.2 282.8 L187.3 282.0 L187.4 281.2 L187.5 280.5 L187.7 279.7 L188.0 279.0 L188.3 279.8 L188.4 280.5 L188.5 281.3 L188.6 282.1 L188.7 282.9 L188.8 283.7 L188.8 284.5 L188.9 285.3 L189.0 286.1 L189.0 286.9 L189.1 287.7 L189.1 288.5 L189.2 289.3 L189.2 290.1 L189.3 290.9 L189.3 291.7 L189.4 292.5 L189.4 293.3 L189.5 294.1 L189.5 294.9 L189.6 295.7 L189.6 296.5 L189.6 297.3 L189.7 298.1 L189.7 298.9 L189.8 299.7 L189.8 300.5 L189.9 301.3 L189.9 302.1 L189.9 302.9 L190.0 303.7 L190.0 304.5 L190.1 305.3 L190.1 306.1 L190.1 306.9 L190.2 307.7 L190.2 308.5 L190.3 309.3 L190.3 310.1 L190.3 310.9 L190.4 311.7 L190.4 312.5 L190.5 313.3 L190.5 314.1 L190.5 314.9 L190.6 315.7 L190.6 316.5 L190.7 317.3 L190.7 318.1 L190.7 318.9 L190.8 319.7 L190.8 320.5 L190.9 321.3 L190.9 322.1 L190.9 322.9 L191.0 323.7 L191.0 324.5 L191.1 325.3 L191.1 326.1 L191.2 326.9 L191.2 327.7 L191.3 328.5 L191.3 329.3 L191.4 330.1 L191.4 330.9 L191.5 331.7 L191.5 332.5 L191.6 333.3 L191.7 334.1 L191.7 334.9 L191.8 335.7 L191.9 336.5 L192.0 337.2 L192.1 338.0 L192.2 338.8 L192.6 339.5 L192.8 338.7 L193.0 338.0 L193.1 337.2 L193.2 336.4 L193.3 335.6 L193.4 334.8 L193.4 334.0 L193.5 333.2 L193.6 332.4 L193.6 331.6 L193.7 330.8 L193.8 330.0 L193.8 329.2 L193.9 328.4 L193.9 327.6 L194.0 326.8 L194.0 326.0 L194.1 325.2 L194.1 324.4 L194.2 323.6 L194.2 322.8 L194.3 322.0 L194.3 321.2 L194.4 320.4 L194.4 319.6 L194.5 318.8 L194.5 318.0 L194.6 317.2 L194.6 316.4 L194.6 315.6 L194.7 314.8 L194.7 314.0 L194.8 313.2 L194.8 312.4 L194.9 311.6 L194.9 310.8 L195.0 310.0 L195.0 309.2 L195.0 308.4 L195.1 307.6 L195.1 306.8 L195.2 306.0 L195.2 305.2 L195.3 304.4 L195.3 303.6 L195.4 302.8 L195.4 302.0 L195.4 301.2 L195.5 300.4 L195.5 299.6 L195.6 298.8 L195.6 298.0 L195.7 297.2 L195.7 296.4 L195.8 295.6 L195.8 294.8 L195.9 294.0 L195.9 293.2 L196.0 292.4 L196.0 291.6 L196.1 290.8 L196.1 290.0 L196.2 289.3 L196.3 288.5 L196.3 287.7 L196.4 286.9 L196.4 286.1 L196.5 285.3 L196.6 284.5 L196.6 283.7 L196.7 282.9 L196.8 282.1 L196.9 281.3 L197.0 280.5 L197.2 279.7 L197.5 279.0 L197.8 279.7 L197.9 280.5 L198.0 281.3 L198.1 282.1 L198.2 282.9 L198.3 283.7 L198.4 284.5 L198.4 285.3 L198.5 286.1 L198.6 286.9 L198.6 287.7 L198.7 288.5 L198.7 289.3 L198.8 290.1 L198.8 290.9 L198.9 291.7 L198.9 292.5 L199.0 293.3 L199.0 294.1 L199.1 294.9 L199.1 295.7 L199.2 296.5 L199.2 297.3 L199.2 298.1 L199.3 298.9 L199.3 299.7 L199.4 300.5 L199.4 301.3 L199.5 302.1 L199.5 302.9 L199.5 303.7 L199.6 304.5 L199.6 305.3 L199.7 306.1 L199.7 306.9 L199.8 307.7 L199.8 308.5 L199.8 309.2 L199.9 310.0 L199.9 310.8 L200.0 311.6 L200.0 312.4 L200.1 313.2 L200.1 314.0 L200.1 314.8 L200.2 315.6 L200.2 316.4 L200.3 317.2 L200.3 318.0 L200.4 318.8 L200.4 319.6 L200.5 320.4 L200.5 321.2 L200.5 322.0 L200.6 322.8 L200.6 323.6 L200.7 324.4 L200.7 325.2 L200.8 326.0 L200.9 326.8 L200.9 327.6 L201.0 328.4 L201.0 329.2 L201.1 330.0 L201.2 330.8 L201.2 331.6 L201.3 332.4 L201.4 333.2 L201.5 334.0 L201.6 334.8 L201.8 335.6 L202.2 335.8 L202.3 335.0 L202.4 334.2 L202.5 333.4 L202.6 332.6 L202.7 331.8 L202.8 331.0 L202.8 330.2 L202.9 329.4 L202.9 328.6 L203.0 327.8 L203.0 327.0 L203.1 326.2 L203.1 325.4 L203.2 324.6 L203.2 323.8 L203.3 323.0 L203.3 322.2 L203.4 321.4 L203.4 320.6 L203.5 319.8 L203.5 319.0 L203.5 318.2 L203.6 317.4 L203.6 316.6 L203.7 315.8 L203.7 315.0 L203.8 314.2 L203.8 313.4 L203.8 312.6 L203.9 311.8 L203.9 311.0 L204.0 310.2 L204.0 309.4 L204.0 308.6 L204.1 307.8 L204.1 307.0 L204.2 306.2 L204.2 305.4 L204.2 304.6 L204.3 303.8 L204.3 303.0 L204.4 302.2 L204.4 301.4 L204.4 300.6 L204.5 299.8 L204.5 299.0 L204.6 298.2 L204.6 297.4 L204.7 296.6 L204.7 295.8 L204.7 295.0 L204.8 294.2 L204.8 293.4 L204.9 292.6 L204.9 291.8 L205.0 291.0 L205.0 290.2 L205.1 289.4 L205.2 288.7 L205.2 287.9 L205.3 287.1 L205.4 286.3 L205.4 285.5 L205.5 284.7 L205.6 283.9 L205.8 283.1 L206.1 282.6 L206.4 283.3 L206.5 284.1 L206.6 284.9 L206.8 285.7 L206.8 286.5 L206.9 287.3 L207.0 288.1 L207.1 288.9 L207.2 289.7 L207.2 290.5 L207.3 291.3 L207.4 292.1 L207.4 292.9 L207.5 293.7 L207.5 294.5 L207.6 295.3 L207.7 296.1 L207.7 296.9 L207.8 297.7 L207.8 298.5 L207.9 299.3 L207.9 300.1 L208.0 300.9 L208.0 301.7 L208.1 302.5 L208.1 303.3 L208.2 304.1 L208.3 304.9 L208.3 305.7 L208.4 306.5 L208.4 307.2 L208.5 308.0 L208.5 308.8 L208.6 309.6 L208.6 310.4 L208.7 311.2 L208.7 312.0 L208.8 312.8 L208.8 313.6 L208.9 314.4 L208.9 315.2 L209.0 316.0 L209.0 316.8 L209.1 317.6 L209.1 318.4 L209.2 319.2 L209.2 320.0 L209.3 320.8 L209.4 321.6 L209.4 322.4 L209.5 323.2 L209.5 324.0 L209.6 324.8 L209.7 325.6 L209.7 326.4 L209.8 327.2 L209.9 328.0 L209.9 328.8 L210.0 329.6 L210.1 330.4 L210.2 331.2 L210.3 332.0 L210.4 332.8 L210.5 333.6 L210.7 334.4 L211.0 335.0 L211.3 334.3 L211.5 333.5 L211.6 332.7 L211.7 331.9 L211.8 331.1 L211.9 330.3 L212.0 329.5 L212.0 328.7 L212.1 327.9 L212.2 327.1 L212.2 326.3 L212.3 325.5 L212.4 324.7 L212.4 323.9 L212.5 323.1 L212.5 322.3 L212.6 321.5 L212.6 320.7 L212.7 319.9 L212.7 319.1 L212.8 318.3 L212.8 317.5 L212.9 316.7 L213.0 315.9 L213.0 315.1 L213.1 314.3 L213.1 313.5 L213.2 312.7 L213.2 311.9 L213.3 311.1 L213.3 310.3 L213.4 309.5 L213.4 308.7 L213.5 307.9 L213.5 307.1 L213.6 306.3 L213.6 305.5 L213.7 304.7 L213.7 303.9 L213.8 303.1 L213.8 302.3 L213.9 301.5 L213.9 300.8 L214.0 300.0 L214.0 299.2 L214.1 298.4 L214.2 297.6 L214.2 296.8 L214.3 296.0 L214.4 295.2 L214.4 294.4 L214.5 293.6 L214.6 292.8 L214.6 292.0 L214.7 291.2 L214.8 290.4 L214.9 289.6 L215.1 288.8 L215.2 288.0 L215.6 287.6 L215.9 288.4 L216.1 289.1 L216.2 289.9 L216.3 290.7 L216.4 291.5 L216.5 292.3 L216.6 293.1 L216.7 293.9 L216.8 294.7 L216.8 295.5 L216.9 296.3 L217.0 297.1 L217.1 297.9 L217.1 298.7 L217.2 299.5 L217.3 300.3 L217.3 301.1 L217.4 301.9 L217.4 302.7 L217.5 303.5 L217.6 304.3 L217.6 305.1 L217.7 305.9 L217.8 306.7 L217.8 307.5 L217.9 308.3 L217.9 309.1 L218.0 309.9 L218.0 310.7 L218.1 311.5 L218.2 312.3 L218.2 313.1 L218.3 313.9 L218.3 314.6 L218.4 315.4 L218.5 316.2 L218.5 317.0 L218.6 317.8 L218.7 318.6 L218.7 319.4 L218.8 320.2 L218.8 321.0 L218.9 321.8 L219.0 322.6 L219.1 323.4 L219.1 324.2 L219.2 325.0 L219.3 325.8 L219.4 326.6 L219.5 327.4 L219.5 328.2 L219.6 329.0 L219.8 329.8 L219.9 330.6 L220.0 331.4 L220.2 332.1 L220.7 332.2 L220.9 331.5 L221.0 330.7 L221.1 329.9 L221.2 329.1 L221.3 328.3 L221.4 327.5 L221.5 326.7 L221.6 325.9 L221.6 325.1 L221.7 324.3 L221.8 323.5 L221.8 322.7 L221.9 321.9 L221.9 321.1 L222.0 320.3 L222.1 319.5 L222.1 318.7 L222.2 317.9 L222.2 317.1 L222.3 316.3 L222.3 315.5 L222.4 314.7 L222.5 313.9 L222.5 313.1 L222.6 312.3 L222.6 311.5 L222.7 310.7 L222.7 309.9 L222.8 309.2 L222.8 308.4 L222.9 307.6 L223.0 306.8 L223.0 306.0 L223.1 305.2 L223.1 304.4 L223.2 303.6 L223.3 302.8 L223.3 302.0 L223.4 301.2 L223.5 300.4 L223.5 299.6 L223.6 298.8 L223.7 298.0 L223.8 297.2 L223.9 296.4 L224.0 295.6 L224.2 294.8 L224.4 294.1 L224.8 294.6 L225.0 295.3 L225.2 296.1 L225.3 296.9 L225.4 297.7 L225.5 298.5 L225.6 299.3 L225.7 300.1 L225.8 300.9 L225.9 301.7 L226.0 302.5 L226.1 303.3 L226.1 304.1 L226.2 304.9 L226.3 305.7 L226.4 306.5 L226.4 307.3 L226.5 308.1 L226.6 308.8 L226.6 309.6 L226.7 310.4 L226.8 311.2 L226.8 312.0 L226.9 312.8 L227.0 313.6 L227.0 314.4 L227.1 315.2 L227.2 316.0 L227.2 316.8 L227.3 317.6 L227.4 318.4 L227.4 319.2 L227.5 320.0 L227.6 320.8 L227.6 321.6 L227.7 322.4 L227.8 323.2 L227.9 324.0 L227.9 324.8 L228.0 325.6 L228.1 326.4 L228.2 327.2 L228.3 328.0 L228.4 328.8 L228.5 329.6 L228.6 330.4 L228.7 331.2 L228.8 331.9 L229.0 332.7 L229.2 333.5 L229.6 333.9 L229.9 333.2 L230.1 332.4 L230.2 331.6 L230.4 330.8 L230.5 330.0 L230.6 329.2 L230.7 328.4 L230.7 327.6 L230.8 326.8 L230.9 326.0 L231.0 325.2 L231.1 324.4 L231.2 323.6 L231.2 322.8 L231.3 322.0 L231.4 321.2 L231.4 320.4 L231.5 319.7 L231.6 318.9 L231.7 318.1 L231.7 317.3 L231.8 316.5 L231.9 315.7 L231.9 314.9 L232.0 314.1 L232.1 313.3 L232.2 312.5 L232.2 311.7 L232.3 310.9 L232.4 310.1 L232.5 309.3 L232.5 308.5 L232.6 307.7 L232.7 306.9 L232.8 306.1 L232.9 305.3 L233.0 304.5 L233.1 303.7 L233.2 302.9 L233.3 302.1 L233.5 301.4 L233.7 300.6 L234.1 300.0 L234.4 300.7 L234.7 301.5 L234.8 302.3 L235.0 303.1 L235.1 303.9 L235.2 304.7 L235.3 305.5 L235.4 306.3 L235.5 307.0 L235.6 307.8 L235.7 308.6 L235.8 309.4 L235.9 310.2 L236.0 311.0 L236.0 311.8 L236.1 312.6 L236.2 313.4 L236.3 314.2 L236.4 315.0 L236.5 315.8 L236.5 316.6 L236.6 317.4 L236.7 318.2 L236.8 319.0 L236.9 319.8 L236.9 320.6 L237.0 321.4 L237.1 322.2 L237.2 323.0 L237.3 323.8 L237.4 324.6 L237.5 325.3 L237.6 326.1 L237.7 326.9 L237.8 327.7 L237.9 328.5 L238.0 329.3 L238.2 330.1 L238.3 330.9 L238.5 331.7 L238.8 332.4 L239.3 332.0 L239.5 331.3 L239.7 330.5 L239.8 329.7 L239.9 328.9 L240.0 328.1 L240.1 327.3 L240.2 326.5 L240.3 325.7 L240.4 324.9 L240.5 324.1 L240.6 323.3 L240.7 322.5 L240.7 321.7 L240.8 320.9 L240.9 320.1 L241.0 319.3 L241.1 318.5 L241.2 317.8 L241.2 317.0 L241.3 316.2 L241.4 315.4 L241.5 314.6 L241.6 313.8 L241.7 313.0 L241.7 312.2 L241.8 311.4 L241.9 310.6 L242.0 309.8 L242.2 309.0 L242.3 308.2 L242.4 307.4 L242.6 306.7 L243.0 306.0 L243.5 306.6 L243.8 307.4 L244.0 308.1 L244.2 308.9 L244.3 309.7 L244.5 310.5 L244.6 311.3 L244.7 312.1 L244.9 312.8 L245.0 313.6 L245.1 314.4 L245.2 315.2 L245.3 316.0 L245.4 316.8 L245.5 317.6 L245.7 318.4 L245.8 319.2 L245.9 320.0 L246.0 320.8 L246.1 321.6 L246.2 322.4 L246.3 323.2 L246.4 323.9 L246.5 324.7 L246.6 325.5 L246.7 326.3 L246.8 327.1 L247.0 327.9 L247.1 328.7 L247.2 329.5 L247.3 330.3 L247.5 331.1 L247.6 331.9 L247.8 332.6 L247.9 333.4 L248.1 334.2 L248.3 335.0 L248.6 335.7 L249.2 335.8 L249.4 335.0 L249.6 334.2 L249.7 333.4 L249.9 332.6 L250.0 331.8 L250.1 331.1 L250.2 330.3 L250.3 329.5 L250.4 328.7 L250.5 327.9 L250.5 327.1 L250.6 326.3 L250.7 325.5 L250.8 324.7 L250.9 323.9 L251.0 323.1 L251.2 322.3 L251.3 321.5 L251.4 320.7 L251.6 320.0 L251.8 319.2 L252.5 319.1 L253.2 319.5 L253.8 320.0 L254.5 320.4 L255.3 320.4 L256.0 320.0 L256.6 319.6 L257.4 319.7 L258.0 320.2 L258.5 320.8 L259.3 321.0 L259.9 320.5 L260.6 320.1 L261.4 320.1 L261.9 320.7 L262.5 321.3 L263.2 321.5 L263.9 321.1 L264.6 320.6 L265.4 320.6 L266.0 321.0 L266.7 321.4 L267.5 321.5 L268.3 321.3 L269.0 321.0" fill="none" stroke="#1212d2" stroke-width="2.6" stroke-linejoin="round" stroke-linecap="round"/>
<path d="M252.5 320.9 L252.8 319.8 L253.1 321.8 L253.4 319.8 L253.7 321.6 L254.0 319.7 L254.3 321.9 L254.6 319.9 L254.9 321.5 L255.2 320.1 L255.5 321.6 L255.8 320.3 L256.1 321.8 L256.4 320.2 L256.7 322.2 L257.0 320.1 L257.3 321.8 L257.6 320.3 L257.9 321.8 L258.2 320.4 L258.5 321.7 L258.8 320.0 L259.1 321.8 L259.4 320.3 L259.7 322.0 L260.0 320.1 L260.3 321.9 L260.6 320.5 L260.9 321.7 L261.2 320.3 L261.5 322.2 L261.8 320.5 L262.1 322.4 L262.4 320.6 L262.7 322.2 L263.0 320.6 L263.3 322.1 L263.6 320.5 L263.9 322.3 L264.2 320.7 L264.5 322.1 L264.8 320.8 L265.1 322.7 L265.4 320.7 L265.7 322.3 L266.0 320.2 L266.3 322.4 L266.6 321.0 L266.9 322.2 L267.2 320.8 L267.5 322.5 L267.8 320.9 L268.1 322.0 L268.4 321.0 L268.7 322.2 L269.0 321.0" fill="none" stroke="#1212d2" stroke-width="1.9" stroke-linejoin="round" stroke-linecap="round"/>
</g>
<g stroke="#0a0a0a" stroke-width="1.6">
<line x1="199.2" y1="52.8" x2="199.2" y2="94.6" stroke-dasharray="8 8.7"/>
<line x1="217.5" y1="174" x2="217.5" y2="248.6" stroke-dasharray="7.5 3.57"/>
<line x1="198.1" y1="271.1" x2="198.1" y2="345.6" stroke-dasharray="7.5 3.57"/>
</g>
<g stroke="#1c837b" fill="#1c837b"><line x1="225.5" y1="49.6" x2="268" y2="65.4" stroke-width="1.8"/><polygon points="273.4,67.4 264.6,68 267.2,61" stroke="none"/></g>
<g stroke="#000" stroke-width="1.7" fill="none">
<rect x="40.9" y="1.95" width="477.3" height="406.35"/>
<line x1="39.6" y1="142.7" x2="518.2" y2="142.7" stroke-width="1.5"/>
<line x1="39.6" y1="271.2" x2="518.2" y2="271.2" stroke-width="1.5"/>
<line x1="50.8" y1="400.5" x2="50.8" y2="408.3" stroke-width="1.6"/>
<line x1="147.6" y1="400.5" x2="147.6" y2="408.3" stroke-width="1.6"/>
<line x1="244.3" y1="400.5" x2="244.3" y2="408.3" stroke-width="1.6"/>
<line x1="341.1" y1="400.5" x2="341.1" y2="408.3" stroke-width="1.6"/>
<line x1="437.8" y1="400.5" x2="437.8" y2="408.3" stroke-width="1.6"/>
<line x1="99.2" y1="404.4" x2="99.2" y2="408.3" stroke-width="1.6"/>
<line x1="195.9" y1="404.4" x2="195.9" y2="408.3" stroke-width="1.6"/>
<line x1="292.7" y1="404.4" x2="292.7" y2="408.3" stroke-width="1.6"/>
<line x1="389.4" y1="404.4" x2="389.4" y2="408.3" stroke-width="1.6"/>
<line x1="486.2" y1="404.4" x2="486.2" y2="408.3" stroke-width="1.6"/>
</g>
<g fill="#0c0c0c" stroke="#0c0c0c" stroke-width="0.15">
<text x="50.8" y="437.4" font-size="26.7" text-anchor="middle">0</text>
<text x="147.6" y="437.4" font-size="26.7" text-anchor="middle">300</text>
<text x="244.3" y="437.4" font-size="26.7" text-anchor="middle">600</text>
<text x="341.1" y="437.4" font-size="26.7" text-anchor="middle">900</text>
<text x="437.8" y="437.4" font-size="26.7" text-anchor="middle">1200</text>
<text x="233.5" y="465.4" font-size="27.9">Time (sec)</text>
<text transform="translate(19.8,223.6) rotate(-90)" font-size="28" text-anchor="middle">Intensity (a.u.)</text>
<text x="59.6" y="34" font-size="20.6">(c)</text>
<text x="56.9" y="177.6" font-size="21.3">(b)</text>
<text x="59.1" y="305.4" font-size="21.3">(a)</text>
<text x="121.5" y="19.7" font-size="21" word-spacing="1.5">Intensity increased</text>
<text x="121.5" y="46" font-size="21">manually</text>
<text x="435" y="32.2" font-size="20.8">800 °C</text>
<text x="432.2" y="239.6" font-size="20.9">750 °C</text>
<text x="430.2" y="371.9" font-size="20.9">720 °C</text>
</g>
</svg>
</body></html>
